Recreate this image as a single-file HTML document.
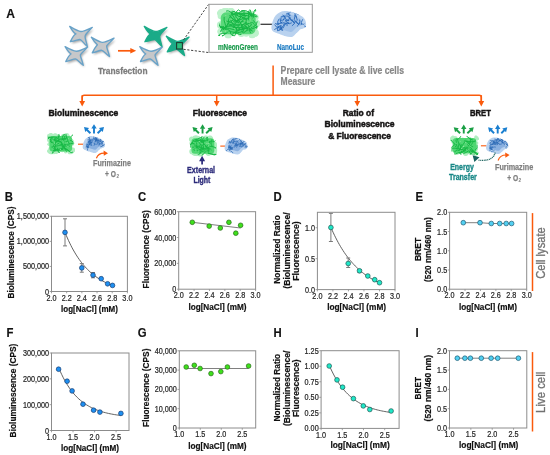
<!DOCTYPE html>
<html><head><meta charset="utf-8"><style>
html,body{margin:0;padding:0;background:#fff;}
svg{display:block;font-family:"Liberation Sans", sans-serif;will-change:transform;}
</style></head><body>
<svg width="550" height="455" viewBox="0 0 550 455">
<defs><filter id="blur1" x="-20%" y="-20%" width="140%" height="140%"><feGaussianBlur stdDeviation="0.9"/></filter></defs>
<rect width="550" height="455" fill="#fff"/>
<path d="M69.70,26.40 C81.06,33.10 80.39,33.07 92.30,27.40 C83.03,37.58 84.14,33.22 87.40,46.60 C77.57,37.11 83.67,38.86 70.30,41.70 C77.69,26.37 78.27,41.10 69.70,26.40 Z" fill="#000" opacity="0.35" transform="translate(1.3,1.8)" filter="url(#blur1)"/>
<path d="M69.70,26.40 C81.06,33.10 80.39,33.07 92.30,27.40 C83.03,37.58 84.14,33.22 87.40,46.60 C77.57,37.11 83.67,38.86 70.30,41.70 C77.69,26.37 78.27,41.10 69.70,26.40 Z" fill="#c6c7c9" stroke="#68a2c8" stroke-width="1.35" stroke-linejoin="round"/>
<path d="M65.10,46.70 C75.99,52.74 76.50,52.75 87.60,47.10 C77.76,58.31 79.51,50.88 83.30,65.30 C73.26,56.89 78.39,57.98 65.80,61.60 C72.61,47.20 73.23,60.40 65.10,46.70 Z" fill="#000" opacity="0.35" transform="translate(1.3,1.8)" filter="url(#blur1)"/>
<path d="M65.10,46.70 C75.99,52.74 76.50,52.75 87.60,47.10 C77.76,58.31 79.51,50.88 83.30,65.30 C73.26,56.89 78.39,57.98 65.80,61.60 C72.61,47.20 73.23,60.40 65.10,46.70 Z" fill="#c6c7c9" stroke="#68a2c8" stroke-width="1.35" stroke-linejoin="round"/>
<path d="M91.30,37.20 C103.06,44.06 101.84,44.01 114.10,38.10 C104.00,49.30 105.86,41.87 109.50,56.50 C99.75,48.37 104.49,49.36 92.30,52.90 C98.82,38.51 99.59,50.65 91.30,37.20 Z" fill="#000" opacity="0.35" transform="translate(1.3,1.8)" filter="url(#blur1)"/>
<path d="M91.30,37.20 C103.06,44.06 101.84,44.01 114.10,38.10 C104.00,49.30 105.86,41.87 109.50,56.50 C99.75,48.37 104.49,49.36 92.30,52.90 C98.82,38.51 99.59,50.65 91.30,37.20 Z" fill="#c6c7c9" stroke="#68a2c8" stroke-width="1.35" stroke-linejoin="round"/>
<path d="M144.30,26.40 C155.66,33.10 154.99,33.07 166.90,27.40 C157.63,37.58 158.74,33.22 162.00,46.60 C152.17,37.11 158.27,38.86 144.90,41.70 C152.29,26.37 152.87,41.10 144.30,26.40 Z" fill="#000" opacity="0.35" transform="translate(1.3,1.8)" filter="url(#blur1)"/>
<path d="M144.30,26.40 C155.66,33.10 154.99,33.07 166.90,27.40 C157.63,37.58 158.74,33.22 162.00,46.60 C152.17,37.11 158.27,38.86 144.90,41.70 C152.29,26.37 152.87,41.10 144.30,26.40 Z" fill="#1aab88" stroke="#1aab88" stroke-width="1.35" stroke-linejoin="round"/>
<path d="M139.80,46.70 C150.69,52.74 151.20,52.75 162.30,47.10 C152.46,58.31 154.21,50.88 158.00,65.30 C147.96,56.89 153.09,57.98 140.50,61.60 C147.31,47.20 147.93,60.40 139.80,46.70 Z" fill="#000" opacity="0.35" transform="translate(1.3,1.8)" filter="url(#blur1)"/>
<path d="M139.80,46.70 C150.69,52.74 151.20,52.75 162.30,47.10 C152.46,58.31 154.21,50.88 158.00,65.30 C147.96,56.89 153.09,57.98 140.50,61.60 C147.31,47.20 147.93,60.40 139.80,46.70 Z" fill="#c6c7c9" stroke="#68a2c8" stroke-width="1.35" stroke-linejoin="round"/>
<path d="M166.30,36.20 C178.06,43.06 176.84,43.01 189.10,37.10 C179.00,48.30 180.86,40.87 184.50,55.50 C174.75,47.37 179.49,48.36 167.30,51.90 C173.82,37.51 174.59,49.65 166.30,36.20 Z" fill="#000" opacity="0.35" transform="translate(1.3,1.8)" filter="url(#blur1)"/>
<path d="M166.30,36.20 C178.06,43.06 176.84,43.01 189.10,37.10 C179.00,48.30 180.86,40.87 184.50,55.50 C174.75,47.37 179.49,48.36 167.30,51.90 C173.82,37.51 174.59,49.65 166.30,36.20 Z" fill="#1aab88" stroke="#1aab88" stroke-width="1.35" stroke-linejoin="round"/>
<rect x="176.6" y="42.6" width="5.8" height="6.4" fill="#2cbf7e" stroke="#1d3b30" stroke-width="1.1"/>
<path d="M183.5,40 L208.5,4.5" stroke="#444" stroke-width="1" stroke-dasharray="2.2,1.6" fill="none"/>
<path d="M183.5,49.3 L209,52.6" stroke="#444" stroke-width="1" stroke-dasharray="2.2,1.6" fill="none"/>
<path d="M118,50.8 L132,50.8" stroke="#fa5a0c" stroke-width="1.7"/>
<path d="M130.3,48 L136.2,50.8 L130.3,53.6 Z" fill="#fa5a0c"/>
<text x="97.90" y="73.90" font-size="9.8" font-weight="bold" fill="#7d7d7d" text-anchor="start" textLength="49.60" lengthAdjust="spacingAndGlyphs" stroke="#7d7d7d" stroke-width="0.3">Transfection</text>
<rect x="209.0" y="4.3" width="103.3" height="48.0" fill="#fff" stroke="#999" stroke-width="1"/>
<clipPath id="cl1"><rect x="216.40" y="8.00" width="43.60" height="30.60" rx="7.63" ry="6.89"/></clipPath>
<g clip-path="url(#cl1)">
<circle cx="228.49" cy="24.38" r="3.13" fill="#bdf2cb"/>
<circle cx="242.05" cy="26.38" r="2.57" fill="#bdf2cb"/>
<circle cx="220.16" cy="31.56" r="2.92" fill="#bdf2cb"/>
<circle cx="228.35" cy="35.43" r="3.31" fill="#bdf2cb"/>
<circle cx="250.67" cy="22.72" r="3.62" fill="#bdf2cb"/>
<circle cx="225.25" cy="26.60" r="4.04" fill="#bdf2cb"/>
<circle cx="239.06" cy="29.21" r="3.68" fill="#bdf2cb"/>
<circle cx="222.04" cy="29.62" r="3.53" fill="#bdf2cb"/>
<circle cx="230.83" cy="11.82" r="4.04" fill="#bdf2cb"/>
<circle cx="237.19" cy="28.66" r="4.06" fill="#bdf2cb"/>
<circle cx="246.14" cy="33.61" r="3.17" fill="#bdf2cb"/>
<circle cx="249.35" cy="21.94" r="4.17" fill="#bdf2cb"/>
<circle cx="252.24" cy="13.45" r="2.70" fill="#bdf2cb"/>
<circle cx="227.71" cy="34.69" r="3.25" fill="#bdf2cb"/>
<circle cx="242.89" cy="18.43" r="3.38" fill="#bdf2cb"/>
<circle cx="233.97" cy="19.65" r="3.52" fill="#bdf2cb"/>
<circle cx="241.32" cy="33.19" r="3.70" fill="#bdf2cb"/>
<circle cx="254.10" cy="32.02" r="4.27" fill="#bdf2cb"/>
<circle cx="244.55" cy="15.05" r="4.03" fill="#bdf2cb"/>
<circle cx="255.42" cy="33.21" r="3.49" fill="#bdf2cb"/>
<circle cx="246.12" cy="16.23" r="3.97" fill="#bdf2cb"/>
<circle cx="240.93" cy="18.04" r="2.56" fill="#bdf2cb"/>
<circle cx="251.32" cy="35.29" r="2.61" fill="#bdf2cb"/>
<circle cx="249.34" cy="21.11" r="2.72" fill="#bdf2cb"/>
<circle cx="230.56" cy="29.88" r="4.05" fill="#bdf2cb"/>
<circle cx="221.31" cy="26.10" r="2.53" fill="#bdf2cb"/>
<circle cx="246.30" cy="19.16" r="4.07" fill="#bdf2cb"/>
<circle cx="256.01" cy="23.43" r="4.28" fill="#bdf2cb"/>
<circle cx="231.15" cy="12.94" r="3.55" fill="#bdf2cb"/>
<circle cx="220.83" cy="15.89" r="3.20" fill="#bdf2cb"/>
<circle cx="242.29" cy="14.88" r="2.53" fill="#bdf2cb"/>
<circle cx="251.83" cy="18.74" r="4.21" fill="#bdf2cb"/>
<circle cx="252.90" cy="20.31" r="3.29" fill="#bdf2cb"/>
<circle cx="238.94" cy="26.82" r="3.54" fill="#bdf2cb"/>
<circle cx="240.40" cy="26.24" r="4.17" fill="#bdf2cb"/>
<circle cx="238.46" cy="21.62" r="3.77" fill="#bdf2cb"/>
<circle cx="228.48" cy="18.43" r="4.24" fill="#bdf2cb"/>
<circle cx="238.98" cy="24.49" r="2.47" fill="#bdf2cb"/>
<circle cx="235.06" cy="25.26" r="2.48" fill="#bdf2cb"/>
<circle cx="242.49" cy="26.54" r="2.56" fill="#bdf2cb"/>
<circle cx="242.92" cy="22.47" r="3.70" fill="#bdf2cb"/>
<circle cx="232.74" cy="28.37" r="3.80" fill="#bdf2cb"/>
<circle cx="220.49" cy="12.54" r="3.69" fill="#bdf2cb"/>
<circle cx="255.37" cy="17.21" r="3.29" fill="#bdf2cb"/>
<circle cx="241.63" cy="18.89" r="3.12" fill="#bdf2cb"/>
<circle cx="231.26" cy="20.10" r="3.54" fill="#bdf2cb"/>
<circle cx="230.80" cy="20.29" r="3.87" fill="#bdf2cb"/>
<circle cx="220.67" cy="25.00" r="3.80" fill="#bdf2cb"/>
<circle cx="231.16" cy="16.51" r="3.92" fill="#bdf2cb"/>
<circle cx="228.52" cy="15.65" r="3.25" fill="#bdf2cb"/>
<circle cx="245.54" cy="13.55" r="3.04" fill="#bdf2cb"/>
<circle cx="232.04" cy="31.47" r="3.25" fill="#bdf2cb"/>
<circle cx="251.38" cy="15.20" r="3.07" fill="#bdf2cb"/>
<circle cx="243.77" cy="32.72" r="3.28" fill="#bdf2cb"/>
<circle cx="228.01" cy="14.02" r="3.42" fill="#bdf2cb"/>
<circle cx="226.74" cy="30.81" r="3.99" fill="#bdf2cb"/>
<circle cx="226.47" cy="17.88" r="3.93" fill="#bdf2cb"/>
<circle cx="243.46" cy="30.80" r="3.08" fill="#bdf2cb"/>
<circle cx="224.48" cy="18.21" r="3.91" fill="#bdf2cb"/>
<circle cx="229.72" cy="19.54" r="3.21" fill="#bdf2cb"/>
<circle cx="235.23" cy="21.09" r="4.14" fill="#bdf2cb"/>
<circle cx="225.45" cy="11.17" r="4.18" fill="#bdf2cb"/>
<circle cx="252.28" cy="35.22" r="3.25" fill="#bdf2cb"/>
<circle cx="254.88" cy="33.76" r="2.86" fill="#bdf2cb"/>
<circle cx="247.30" cy="31.54" r="3.67" fill="#bdf2cb"/>
<circle cx="238.90" cy="18.14" r="3.07" fill="#bdf2cb"/>
<circle cx="228.10" cy="12.73" r="3.53" fill="#bdf2cb"/>
<circle cx="230.31" cy="30.89" r="2.53" fill="#bdf2cb"/>
<circle cx="253.16" cy="28.04" r="4.14" fill="#bdf2cb"/>
<circle cx="252.90" cy="33.08" r="3.51" fill="#bdf2cb"/>
<rect x="220.76" y="12.28" width="34.88" height="22.03" rx="5.45" fill="#5ad87a"/>
<path d="M222.28,28.55 Q224.92,28.95 227.64,29.49 T229.50,31.39" stroke="#17b646" stroke-width="1.0" fill="none" stroke-linecap="round"/>
<path d="M225.95,33.41 Q222.67,32.74 219.67,34.32 T219.67,35.54" stroke="#17b646" stroke-width="1.0" fill="none" stroke-linecap="round"/>
<path d="M230.80,31.65 Q235.57,32.17 237.67,33.63 T241.01,34.60" stroke="#17b646" stroke-width="1.0" fill="none" stroke-linecap="round"/>
<path d="M239.09,21.65 Q235.95,17.94 235.52,15.74 T232.22,13.54" stroke="#17b646" stroke-width="1.0" fill="none" stroke-linecap="round"/>
<path d="M222.93,27.86 Q219.67,27.36 219.67,25.93 T219.67,25.47" stroke="#17b646" stroke-width="1.0" fill="none" stroke-linecap="round"/>
<path d="M232.60,15.24 Q235.03,13.98 236.84,11.20 T240.07,11.06" stroke="#17b646" stroke-width="1.0" fill="none" stroke-linecap="round"/>
<path d="M234.28,29.75 Q229.43,28.12 223.53,27.63 T220.85,27.69" stroke="#17b646" stroke-width="1.0" fill="none" stroke-linecap="round"/>
<path d="M229.00,18.38 Q231.27,16.72 231.56,13.73 T234.93,11.26" stroke="#17b646" stroke-width="1.0" fill="none" stroke-linecap="round"/>
<path d="M250.31,15.19 Q255.77,16.12 256.73,16.92 T256.73,15.85" stroke="#17b646" stroke-width="1.0" fill="none" stroke-linecap="round"/>
<path d="M239.25,29.97 Q241.23,27.22 243.68,24.12 T246.55,21.98" stroke="#17b646" stroke-width="1.0" fill="none" stroke-linecap="round"/>
<path d="M248.65,19.90 Q248.13,16.49 248.83,13.66 T248.46,11.34" stroke="#17b646" stroke-width="1.0" fill="none" stroke-linecap="round"/>
<path d="M254.43,24.66 Q256.73,27.34 256.73,27.05 T256.73,27.07" stroke="#17b646" stroke-width="1.0" fill="none" stroke-linecap="round"/>
<path d="M229.77,16.44 Q233.55,20.06 237.73,21.80 T239.46,25.17" stroke="#17b646" stroke-width="1.0" fill="none" stroke-linecap="round"/>
<path d="M253.45,20.63 Q256.56,23.99 256.73,25.52 T256.73,28.37" stroke="#17b646" stroke-width="1.0" fill="none" stroke-linecap="round"/>
<path d="M238.76,22.95 Q236.14,21.87 232.41,18.30 T229.83,15.68" stroke="#17b646" stroke-width="1.0" fill="none" stroke-linecap="round"/>
<path d="M245.36,16.58 Q242.81,19.46 237.41,20.61 T232.18,21.45" stroke="#17b646" stroke-width="1.0" fill="none" stroke-linecap="round"/>
<path d="M243.80,30.91 Q240.80,32.42 237.49,32.62 T234.04,32.51" stroke="#17b646" stroke-width="1.0" fill="none" stroke-linecap="round"/>
<path d="M237.63,31.09 Q235.50,27.74 232.74,23.90 T232.71,20.26" stroke="#17b646" stroke-width="1.0" fill="none" stroke-linecap="round"/>
<path d="M237.59,28.03 Q237.49,25.81 240.83,22.09 T244.86,19.31" stroke="#17b646" stroke-width="1.0" fill="none" stroke-linecap="round"/>
<path d="M224.11,17.25 Q223.50,20.02 225.13,23.86 T223.72,28.33" stroke="#17b646" stroke-width="1.0" fill="none" stroke-linecap="round"/>
<path d="M230.19,31.12 Q230.42,35.44 232.57,35.54 T232.54,35.54" stroke="#17b646" stroke-width="1.0" fill="none" stroke-linecap="round"/>
<path d="M236.64,28.31 Q235.93,31.58 235.44,34.22 T233.76,35.54" stroke="#17b646" stroke-width="1.0" fill="none" stroke-linecap="round"/>
<path d="M234.63,24.25 Q237.21,21.68 239.65,18.69 T240.44,15.18" stroke="#17b646" stroke-width="1.0" fill="none" stroke-linecap="round"/>
<path d="M244.76,27.12 Q241.00,29.72 236.14,31.67 T232.64,34.79" stroke="#17b646" stroke-width="1.0" fill="none" stroke-linecap="round"/>
<path d="M253.29,27.00 Q255.86,26.08 256.73,23.28 T256.73,21.90" stroke="#17b646" stroke-width="1.0" fill="none" stroke-linecap="round"/>
<path d="M245.73,15.79 Q242.68,15.80 240.28,14.22 T235.59,12.55" stroke="#17b646" stroke-width="1.0" fill="none" stroke-linecap="round"/>
<path d="M241.39,24.48 Q244.51,25.14 249.15,23.42 T253.66,23.33" stroke="#17b646" stroke-width="1.0" fill="none" stroke-linecap="round"/>
<path d="M246.04,20.28 Q246.08,22.76 246.25,25.60 T245.10,29.01" stroke="#17b646" stroke-width="1.0" fill="none" stroke-linecap="round"/>
<path d="M250.47,32.83 Q248.79,30.07 249.09,27.67 T248.32,25.38" stroke="#17b646" stroke-width="1.0" fill="none" stroke-linecap="round"/>
<path d="M225.53,29.28 Q226.18,26.06 229.02,22.33 T232.81,20.14" stroke="#17b646" stroke-width="1.0" fill="none" stroke-linecap="round"/>
<path d="M226.64,21.12 Q229.86,21.43 232.83,23.46 T237.99,25.09" stroke="#17b646" stroke-width="1.0" fill="none" stroke-linecap="round"/>
<path d="M236.40,21.31 Q234.74,18.67 232.74,15.48 T231.96,11.06" stroke="#17b646" stroke-width="1.0" fill="none" stroke-linecap="round"/>
<path d="M243.68,13.24 Q248.98,13.37 253.13,14.36 T256.73,15.44" stroke="#17b646" stroke-width="1.0" fill="none" stroke-linecap="round"/>
<path d="M228.18,23.93 Q233.64,25.75 237.15,25.10 T240.30,25.17" stroke="#17b646" stroke-width="1.0" fill="none" stroke-linecap="round"/>
<path d="M237.13,14.49 Q239.90,11.78 241.60,11.06 T243.15,11.06" stroke="#17b646" stroke-width="1.0" fill="none" stroke-linecap="round"/>
<path d="M233.09,27.44 Q238.92,27.07 243.94,28.16 T249.37,28.23" stroke="#17b646" stroke-width="1.0" fill="none" stroke-linecap="round"/>
<path d="M252.32,31.04 Q248.89,29.90 246.23,27.47 T245.39,23.46" stroke="#17b646" stroke-width="1.0" fill="none" stroke-linecap="round"/>
<path d="M234.65,22.73 Q238.42,20.25 240.71,17.40 T244.06,15.62" stroke="#17b646" stroke-width="1.0" fill="none" stroke-linecap="round"/>
<path d="M227.76,31.86 Q225.27,34.82 222.97,35.54 T223.15,35.54" stroke="#17b646" stroke-width="1.0" fill="none" stroke-linecap="round"/>
<path d="M247.46,15.66 Q244.79,15.38 240.57,14.47 T237.82,13.31" stroke="#17b646" stroke-width="1.0" fill="none" stroke-linecap="round"/>
<path d="M241.75,22.07 Q245.19,20.17 248.89,17.40 T249.30,14.20" stroke="#17b646" stroke-width="1.0" fill="none" stroke-linecap="round"/>
<path d="M234.82,13.16 Q238.06,13.59 241.06,13.34 T245.04,15.32" stroke="#17b646" stroke-width="1.0" fill="none" stroke-linecap="round"/>
<path d="M248.25,18.82 Q248.68,15.38 249.21,13.24 T248.82,11.06" stroke="#17b646" stroke-width="1.0" fill="none" stroke-linecap="round"/>
<path d="M232.22,13.80 Q231.41,11.80 228.85,11.06 T226.10,11.11" stroke="#17b646" stroke-width="1.0" fill="none" stroke-linecap="round"/>
<path d="M223.61,26.61 Q219.67,27.23 219.67,25.84 T219.67,23.99" stroke="#17b646" stroke-width="1.0" fill="none" stroke-linecap="round"/>
<path d="M231.81,25.59 Q226.26,26.04 223.27,28.13 T220.50,31.45" stroke="#17b646" stroke-width="1.0" fill="none" stroke-linecap="round"/>
<path d="M252.21,16.33 Q249.37,12.25 246.67,11.06 T241.78,11.06" stroke="#17b646" stroke-width="1.0" fill="none" stroke-linecap="round"/>
<path d="M237.57,18.36 Q240.65,22.30 242.08,26.90 T244.74,28.34" stroke="#17b646" stroke-width="1.0" fill="none" stroke-linecap="round"/>
<path d="M246.43,30.21 Q249.38,30.08 254.31,28.03 T256.73,26.90" stroke="#17b646" stroke-width="1.0" fill="none" stroke-linecap="round"/>
<path d="M250.37,22.23 Q248.43,24.36 243.29,26.52 T240.56,28.52" stroke="#17b646" stroke-width="1.0" fill="none" stroke-linecap="round"/>
<path d="M236.58,30.20 Q239.50,29.26 244.10,28.70 T246.14,26.51" stroke="#17b646" stroke-width="1.0" fill="none" stroke-linecap="round"/>
<path d="M253.48,17.30 Q252.47,14.43 254.26,11.06 T255.62,11.06" stroke="#17b646" stroke-width="1.0" fill="none" stroke-linecap="round"/>
<path d="M223.20,29.86 Q226.97,26.22 227.85,23.93 T228.61,19.58" stroke="#17b646" stroke-width="1.0" fill="none" stroke-linecap="round"/>
<path d="M244.11,14.92 Q243.83,11.87 244.21,11.06 T241.41,11.06" stroke="#17b646" stroke-width="1.0" fill="none" stroke-linecap="round"/>
<path d="M241.29,30.04 Q244.37,28.46 247.95,27.44 T251.47,24.33" stroke="#17b646" stroke-width="1.0" fill="none" stroke-linecap="round"/>
<path d="M252.06,27.29 Q247.87,29.04 245.60,31.52 T241.86,31.96" stroke="#17b646" stroke-width="1.0" fill="none" stroke-linecap="round"/>
<path d="M235.94,14.39 Q238.21,16.35 243.49,18.00 T246.59,20.31" stroke="#17b646" stroke-width="1.0" fill="none" stroke-linecap="round"/>
<path d="M245.11,30.85 Q239.77,28.78 234.94,27.03 T229.07,25.69" stroke="#17b646" stroke-width="1.0" fill="none" stroke-linecap="round"/>
<path d="M251.94,18.85 Q251.99,14.74 250.59,11.38 T250.33,11.06" stroke="#17b646" stroke-width="1.0" fill="none" stroke-linecap="round"/>
<path d="M246.22,18.50 Q242.94,18.16 240.34,16.80 T235.23,14.62" stroke="#17b646" stroke-width="1.0" fill="none" stroke-linecap="round"/>
<circle cx="236.73" cy="18.35" r="0.45" fill="#d0f7b0" opacity="0.8"/>
<circle cx="237.87" cy="28.52" r="0.45" fill="#d0f7b0" opacity="0.8"/>
<circle cx="232.56" cy="21.20" r="0.45" fill="#d0f7b0" opacity="0.8"/>
<circle cx="246.21" cy="25.56" r="0.45" fill="#d0f7b0" opacity="0.8"/>
<circle cx="249.78" cy="22.14" r="0.45" fill="#d0f7b0" opacity="0.8"/>
<circle cx="249.71" cy="22.86" r="0.45" fill="#d0f7b0" opacity="0.8"/>
<circle cx="251.24" cy="18.63" r="0.45" fill="#d0f7b0" opacity="0.8"/>
<circle cx="250.14" cy="19.74" r="0.45" fill="#d0f7b0" opacity="0.8"/>
<circle cx="225.89" cy="21.17" r="0.45" fill="#d0f7b0" opacity="0.8"/>
<circle cx="234.52" cy="28.87" r="0.45" fill="#d0f7b0" opacity="0.8"/>
<circle cx="244.67" cy="30.54" r="0.45" fill="#d0f7b0" opacity="0.8"/>
<circle cx="238.71" cy="15.13" r="0.45" fill="#d0f7b0" opacity="0.8"/>
<circle cx="241.58" cy="17.39" r="0.45" fill="#d0f7b0" opacity="0.8"/>
<circle cx="225.67" cy="30.88" r="0.45" fill="#d0f7b0" opacity="0.8"/>
<circle cx="225.17" cy="31.44" r="0.45" fill="#d0f7b0" opacity="0.8"/>
<circle cx="245.87" cy="20.86" r="0.45" fill="#d0f7b0" opacity="0.8"/>
<circle cx="250.38" cy="20.99" r="0.45" fill="#d0f7b0" opacity="0.8"/>
<circle cx="239.58" cy="23.13" r="0.45" fill="#d0f7b0" opacity="0.8"/>
<circle cx="231.37" cy="19.54" r="0.45" fill="#d0f7b0" opacity="0.8"/>
<circle cx="248.78" cy="28.95" r="0.45" fill="#d0f7b0" opacity="0.8"/>
<circle cx="240.91" cy="28.54" r="0.45" fill="#d0f7b0" opacity="0.8"/>
<circle cx="236.89" cy="19.29" r="0.45" fill="#d0f7b0" opacity="0.8"/>
<circle cx="242.70" cy="23.28" r="0.45" fill="#d0f7b0" opacity="0.8"/>
<circle cx="244.03" cy="20.60" r="0.45" fill="#d0f7b0" opacity="0.8"/>
<circle cx="225.89" cy="15.51" r="0.45" fill="#d0f7b0" opacity="0.8"/>
<circle cx="251.17" cy="17.67" r="0.45" fill="#d0f7b0" opacity="0.8"/>
<circle cx="245.04" cy="24.37" r="0.45" fill="#d0f7b0" opacity="0.8"/>
<circle cx="250.06" cy="27.40" r="0.45" fill="#d0f7b0" opacity="0.8"/>
<circle cx="247.13" cy="21.83" r="0.45" fill="#d0f7b0" opacity="0.8"/>
<circle cx="244.76" cy="20.56" r="0.45" fill="#d0f7b0" opacity="0.8"/>
</g>
<path d="M260.5,24.3 L275.3,24.3" stroke="#3a3a3a" stroke-width="1.3"/>
<path d="M271.80,24.60 C272.33,22.05 273.68,17.63 275.60,15.40 C277.52,13.17 280.37,11.67 283.30,11.20 C286.23,10.73 289.77,11.47 293.20,12.60 C296.63,13.73 301.80,15.63 303.90,18.00 C306.00,20.37 306.70,24.73 305.80,26.80 C304.90,28.87 300.88,28.70 298.50,30.40 C296.12,32.10 294.67,36.40 291.50,37.00 C288.33,37.60 282.68,35.05 279.50,34.00 C276.32,32.95 273.68,32.27 272.40,30.70 C271.12,29.13 271.27,27.15 271.80,24.60 Z" fill="#b9d2ef"/>
<clipPath id="cl2"><path d="M271.80,24.60 C272.33,22.05 273.68,17.63 275.60,15.40 C277.52,13.17 280.37,11.67 283.30,11.20 C286.23,10.73 289.77,11.47 293.20,12.60 C296.63,13.73 301.80,15.63 303.90,18.00 C306.00,20.37 306.70,24.73 305.80,26.80 C304.90,28.87 300.88,28.70 298.50,30.40 C296.12,32.10 294.67,36.40 291.50,37.00 C288.33,37.60 282.68,35.05 279.50,34.00 C276.32,32.95 273.68,32.27 272.40,30.70 C271.12,29.13 271.27,27.15 271.80,24.60 Z"/></clipPath>
<circle cx="275.92" cy="19.51" r="1.94" fill="#b9d2ef"/>
<circle cx="282.57" cy="13.52" r="2.14" fill="#b9d2ef"/>
<circle cx="290.41" cy="13.67" r="2.12" fill="#b9d2ef"/>
<circle cx="292.95" cy="14.13" r="1.67" fill="#b9d2ef"/>
<circle cx="303.67" cy="26.05" r="1.85" fill="#b9d2ef"/>
<circle cx="297.97" cy="29.34" r="1.31" fill="#b9d2ef"/>
<circle cx="294.45" cy="32.38" r="1.45" fill="#b9d2ef"/>
<circle cx="285.43" cy="34.03" r="1.77" fill="#b9d2ef"/>
<circle cx="280.53" cy="32.79" r="1.42" fill="#b9d2ef"/>
<circle cx="274.22" cy="28.42" r="2.12" fill="#b9d2ef"/>
<circle cx="276.40" cy="18.35" r="1.36" fill="#b9d2ef"/>
<circle cx="282.59" cy="13.51" r="1.34" fill="#b9d2ef"/>
<circle cx="289.34" cy="13.52" r="1.33" fill="#b9d2ef"/>
<circle cx="292.69" cy="14.00" r="2.07" fill="#b9d2ef"/>
<circle cx="302.44" cy="20.37" r="1.42" fill="#b9d2ef"/>
<circle cx="297.45" cy="29.60" r="2.07" fill="#b9d2ef"/>
<circle cx="295.55" cy="31.34" r="2.16" fill="#b9d2ef"/>
<circle cx="285.48" cy="34.04" r="1.88" fill="#b9d2ef"/>
<g clip-path="url(#cl2)">
<path d="M277.06,23.47 C277.44,21.74 278.42,18.73 279.80,17.22 C281.18,15.70 283.23,14.68 285.34,14.36 C287.45,14.04 290.00,14.54 292.47,15.31 C294.94,16.08 298.66,17.37 300.17,18.98 C301.68,20.59 302.19,23.56 301.54,24.97 C300.89,26.37 298.00,26.26 296.28,27.42 C294.57,28.57 293.52,31.50 291.24,31.90 C288.96,32.31 284.90,30.58 282.60,29.86 C280.31,29.15 278.42,28.69 277.49,27.62 C276.57,26.55 276.68,25.21 277.06,23.47 Z" fill="#9fc0e8"/>
<path d="M283.80,24.06 Q285.73,23.10 288.87,22.98" stroke="#2466b8" stroke-width="0.85" fill="none" stroke-linecap="round"/>
<path d="M279.05,19.05 Q276.87,21.62 277.68,23.13" stroke="#2466b8" stroke-width="0.85" fill="none" stroke-linecap="round"/>
<path d="M284.19,22.65 Q282.42,23.47 280.76,23.06" stroke="#2466b8" stroke-width="0.85" fill="none" stroke-linecap="round"/>
<path d="M281.02,22.96 Q279.57,21.31 281.01,17.93" stroke="#2466b8" stroke-width="0.85" fill="none" stroke-linecap="round"/>
<path d="M286.38,13.84 Q289.20,13.37 289.29,14.72" stroke="#2466b8" stroke-width="0.85" fill="none" stroke-linecap="round"/>
<path d="M299.27,23.33 Q298.35,25.63 297.28,26.28" stroke="#2466b8" stroke-width="0.85" fill="none" stroke-linecap="round"/>
<path d="M280.90,29.05 Q283.07,26.82 282.56,27.03" stroke="#2466b8" stroke-width="0.85" fill="none" stroke-linecap="round"/>
<path d="M285.78,23.66 Q284.50,25.32 282.95,28.11" stroke="#2466b8" stroke-width="0.85" fill="none" stroke-linecap="round"/>
<path d="M282.89,15.10 Q285.74,15.92 285.60,18.78" stroke="#2466b8" stroke-width="0.85" fill="none" stroke-linecap="round"/>
<path d="M280.90,28.66 Q279.85,30.53 278.24,30.45" stroke="#2466b8" stroke-width="0.85" fill="none" stroke-linecap="round"/>
<path d="M288.28,13.36 Q289.38,13.73 290.52,12.06" stroke="#2466b8" stroke-width="0.85" fill="none" stroke-linecap="round"/>
<path d="M281.27,29.75 Q278.43,27.78 277.95,26.20" stroke="#2466b8" stroke-width="0.85" fill="none" stroke-linecap="round"/>
<path d="M282.21,22.13 Q280.63,24.35 276.95,23.72" stroke="#2466b8" stroke-width="0.85" fill="none" stroke-linecap="round"/>
<path d="M288.55,20.46 Q286.59,19.62 285.20,20.90" stroke="#2466b8" stroke-width="0.85" fill="none" stroke-linecap="round"/>
<path d="M288.75,23.71 Q286.87,21.04 285.96,20.84" stroke="#2466b8" stroke-width="0.85" fill="none" stroke-linecap="round"/>
<path d="M284.58,23.87 Q283.84,26.31 281.45,27.58" stroke="#2466b8" stroke-width="0.85" fill="none" stroke-linecap="round"/>
<path d="M295.89,16.77 Q295.38,15.98 294.95,13.57" stroke="#2466b8" stroke-width="0.85" fill="none" stroke-linecap="round"/>
<path d="M294.31,22.99 Q291.60,21.42 291.81,19.56" stroke="#2466b8" stroke-width="0.85" fill="none" stroke-linecap="round"/>
<path d="M283.38,19.85 Q285.18,17.37 285.19,15.80" stroke="#2466b8" stroke-width="0.85" fill="none" stroke-linecap="round"/>
<path d="M295.22,21.57 Q294.85,24.17 292.27,25.64" stroke="#2466b8" stroke-width="0.85" fill="none" stroke-linecap="round"/>
<path d="M304.26,24.17 Q303.79,25.20 301.31,23.62" stroke="#2466b8" stroke-width="0.85" fill="none" stroke-linecap="round"/>
<path d="M290.27,20.10 Q290.93,18.85 289.90,17.11" stroke="#2466b8" stroke-width="0.85" fill="none" stroke-linecap="round"/>
<path d="M294.24,19.51 Q295.24,15.92 294.92,15.15" stroke="#2466b8" stroke-width="0.85" fill="none" stroke-linecap="round"/>
<path d="M280.41,25.43 Q281.24,26.29 281.29,29.90" stroke="#2466b8" stroke-width="0.85" fill="none" stroke-linecap="round"/>
<path d="M287.78,13.18 Q287.98,13.54 290.09,15.74" stroke="#2466b8" stroke-width="0.85" fill="none" stroke-linecap="round"/>
<path d="M278.04,27.57 Q275.62,27.40 274.78,24.81" stroke="#2466b8" stroke-width="0.85" fill="none" stroke-linecap="round"/>
<path d="M277.04,27.90 Q276.83,28.28 274.64,29.42" stroke="#2466b8" stroke-width="0.85" fill="none" stroke-linecap="round"/>
<path d="M278.79,24.55 Q277.34,25.43 275.41,23.57" stroke="#2466b8" stroke-width="0.85" fill="none" stroke-linecap="round"/>
<path d="M298.10,23.48 Q295.90,22.36 295.84,20.67" stroke="#2466b8" stroke-width="0.85" fill="none" stroke-linecap="round"/>
<path d="M294.07,22.72 Q293.88,20.10 291.32,20.48" stroke="#2466b8" stroke-width="0.85" fill="none" stroke-linecap="round"/>
<path d="M279.99,27.14 Q282.55,28.47 282.77,30.54" stroke="#2466b8" stroke-width="0.85" fill="none" stroke-linecap="round"/>
<path d="M286.58,16.10 Q289.76,17.03 290.17,15.47" stroke="#2466b8" stroke-width="0.85" fill="none" stroke-linecap="round"/>
<path d="M291.48,22.98 Q289.07,24.48 287.74,23.07" stroke="#2466b8" stroke-width="0.85" fill="none" stroke-linecap="round"/>
<path d="M288.68,17.40 Q290.09,18.29 291.83,20.42" stroke="#2466b8" stroke-width="0.85" fill="none" stroke-linecap="round"/>
<path d="M299.33,14.20 Q299.01,14.71 296.08,13.52" stroke="#2466b8" stroke-width="0.85" fill="none" stroke-linecap="round"/>
<path d="M281.25,16.80 Q283.26,16.60 284.62,16.56" stroke="#2466b8" stroke-width="0.85" fill="none" stroke-linecap="round"/>
<path d="M294.58,20.69 Q295.74,22.40 298.10,23.92" stroke="#2466b8" stroke-width="0.85" fill="none" stroke-linecap="round"/>
<path d="M284.07,19.63 Q283.06,20.30 280.57,20.43" stroke="#2466b8" stroke-width="0.85" fill="none" stroke-linecap="round"/>
<path d="M276.99,28.33 Q279.36,25.58 281.46,25.74" stroke="#2466b8" stroke-width="0.85" fill="none" stroke-linecap="round"/>
<path d="M297.26,20.03 Q296.64,19.14 296.12,15.78" stroke="#2466b8" stroke-width="0.85" fill="none" stroke-linecap="round"/>
<path d="M286.02,22.48 Q287.57,22.78 287.14,25.68" stroke="#2466b8" stroke-width="0.85" fill="none" stroke-linecap="round"/>
<path d="M299.87,19.92 Q300.55,21.20 298.77,24.63" stroke="#2466b8" stroke-width="0.85" fill="none" stroke-linecap="round"/>
<path d="M289.60,17.76 Q289.14,19.99 288.16,20.35" stroke="#2466b8" stroke-width="0.85" fill="none" stroke-linecap="round"/>
<path d="M277.52,30.87 Q276.68,29.37 278.68,26.53" stroke="#2466b8" stroke-width="0.85" fill="none" stroke-linecap="round"/>
<path d="M304.52,26.15 Q306.08,27.35 309.31,27.67" stroke="#2466b8" stroke-width="0.85" fill="none" stroke-linecap="round"/>
<path d="M302.51,19.57 Q300.77,22.43 301.13,24.64" stroke="#2466b8" stroke-width="0.85" fill="none" stroke-linecap="round"/>
<path d="M285.72,19.76 Q286.72,18.86 288.44,20.53" stroke="#2466b8" stroke-width="0.85" fill="none" stroke-linecap="round"/>
<path d="M279.03,30.49 Q279.87,28.93 281.12,28.48" stroke="#2466b8" stroke-width="0.85" fill="none" stroke-linecap="round"/>
</g>
<text x="217.90" y="49.70" font-size="8.6" font-weight="bold" fill="#1a9a4c" text-anchor="start" textLength="40.00" lengthAdjust="spacingAndGlyphs" stroke="#1a9a4c" stroke-width="0.2">mNeonGreen</text>
<text x="276.90" y="49.70" font-size="8.6" font-weight="bold" fill="#1a7ac2" text-anchor="start" textLength="27.10" lengthAdjust="spacingAndGlyphs" stroke="#1a7ac2" stroke-width="0.2">NanoLuc</text>
<path d="M273.1,65.4 L273.1,95.2" stroke="#fa5a0c" stroke-width="1.5" fill="none"/>
<text x="280.60" y="73.90" font-size="10.2" font-weight="bold" fill="#878787" text-anchor="start" textLength="123.40" lengthAdjust="spacingAndGlyphs" stroke="#878787" stroke-width="0.22">Prepare cell lysate &amp; live cells</text>
<text x="280.60" y="85.10" font-size="10.2" font-weight="bold" fill="#878787" text-anchor="start" textLength="34.60" lengthAdjust="spacingAndGlyphs" stroke="#878787" stroke-width="0.22">Measure</text>
<path d="M82.2,104 L82.2,97.2 Q82.2,95.2 84.2,95.2 L479.3,95.2 Q481.3,95.2 481.3,97.2 L481.3,104" stroke="#fa5a0c" stroke-width="1.5" fill="none"/>
<path d="M82.2,95.2 L82.2,103" stroke="#fa5a0c" stroke-width="1.5"/>
<path d="M79.3,101.0 L82.2,106.4 L85.10000000000001,101.0 Z" fill="#fa5a0c"/>
<path d="M216.7,95.2 L216.7,103" stroke="#fa5a0c" stroke-width="1.5"/>
<path d="M213.79999999999998,101.0 L216.7,106.4 L219.6,101.0 Z" fill="#fa5a0c"/>
<path d="M357.3,95.2 L357.3,103" stroke="#fa5a0c" stroke-width="1.5"/>
<path d="M354.40000000000003,101.0 L357.3,106.4 L360.2,101.0 Z" fill="#fa5a0c"/>
<path d="M481.3,95.2 L481.3,103" stroke="#fa5a0c" stroke-width="1.5"/>
<path d="M478.40000000000003,101.0 L481.3,106.4 L484.2,101.0 Z" fill="#fa5a0c"/>
<text x="48.50" y="115.90" font-size="9.3" font-weight="bold" fill="#161414" text-anchor="start" textLength="69.70" lengthAdjust="spacingAndGlyphs" stroke="#161414" stroke-width="0.5">Bioluminescence</text>
<text x="192.80" y="115.80" font-size="9.3" font-weight="bold" fill="#161414" text-anchor="start" textLength="54.10" lengthAdjust="spacingAndGlyphs" stroke="#161414" stroke-width="0.5">Fluorescence</text>
<text x="342.70" y="115.90" font-size="9.3" font-weight="bold" fill="#161414" text-anchor="start" textLength="31.30" lengthAdjust="spacingAndGlyphs" stroke="#161414" stroke-width="0.5">Ratio of</text>
<text x="324.50" y="127.20" font-size="9.3" font-weight="bold" fill="#161414" text-anchor="start" textLength="70.00" lengthAdjust="spacingAndGlyphs" stroke="#161414" stroke-width="0.5">Bioluminescence</text>
<text x="328.20" y="138.60" font-size="9.3" font-weight="bold" fill="#161414" text-anchor="start" textLength="62.70" lengthAdjust="spacingAndGlyphs" stroke="#161414" stroke-width="0.5">&amp; Fluorescence</text>
<text x="470.00" y="115.90" font-size="9.3" font-weight="bold" fill="#161414" text-anchor="start" textLength="20.90" lengthAdjust="spacingAndGlyphs" stroke="#161414" stroke-width="0.5">BRET</text>
<clipPath id="cl3"><rect x="46.60" y="132.90" width="28.40" height="21.60" rx="4.97" ry="4.86"/></clipPath>
<g clip-path="url(#cl3)">
<circle cx="59.65" cy="144.73" r="2.93" fill="#b0eec0"/>
<circle cx="59.97" cy="143.84" r="2.49" fill="#b0eec0"/>
<circle cx="53.19" cy="143.91" r="2.54" fill="#b0eec0"/>
<circle cx="67.87" cy="136.69" r="2.12" fill="#b0eec0"/>
<circle cx="50.92" cy="149.05" r="2.63" fill="#b0eec0"/>
<circle cx="49.74" cy="152.03" r="2.98" fill="#b0eec0"/>
<circle cx="64.52" cy="145.70" r="1.93" fill="#b0eec0"/>
<circle cx="49.09" cy="144.19" r="1.81" fill="#b0eec0"/>
<circle cx="53.32" cy="139.24" r="1.77" fill="#b0eec0"/>
<circle cx="59.93" cy="142.67" r="2.82" fill="#b0eec0"/>
<circle cx="61.26" cy="146.12" r="2.38" fill="#b0eec0"/>
<circle cx="64.72" cy="142.96" r="2.09" fill="#b0eec0"/>
<circle cx="72.81" cy="152.27" r="2.82" fill="#b0eec0"/>
<circle cx="65.82" cy="140.51" r="2.03" fill="#b0eec0"/>
<circle cx="55.71" cy="136.27" r="2.72" fill="#b0eec0"/>
<circle cx="58.40" cy="149.69" r="2.23" fill="#b0eec0"/>
<circle cx="71.86" cy="149.70" r="1.73" fill="#b0eec0"/>
<circle cx="53.79" cy="150.79" r="2.34" fill="#b0eec0"/>
<circle cx="72.40" cy="141.93" r="1.82" fill="#b0eec0"/>
<circle cx="63.93" cy="148.51" r="2.08" fill="#b0eec0"/>
<circle cx="50.83" cy="140.81" r="2.98" fill="#b0eec0"/>
<circle cx="67.03" cy="137.10" r="2.05" fill="#b0eec0"/>
<circle cx="51.17" cy="136.09" r="2.76" fill="#b0eec0"/>
<circle cx="53.02" cy="144.72" r="2.31" fill="#b0eec0"/>
<circle cx="53.33" cy="147.71" r="1.90" fill="#b0eec0"/>
<circle cx="64.27" cy="137.07" r="2.27" fill="#b0eec0"/>
<circle cx="53.87" cy="139.72" r="2.99" fill="#b0eec0"/>
<circle cx="68.12" cy="140.32" r="2.87" fill="#b0eec0"/>
<circle cx="53.82" cy="141.87" r="2.84" fill="#b0eec0"/>
<circle cx="64.22" cy="136.79" r="3.01" fill="#b0eec0"/>
<circle cx="53.88" cy="139.52" r="2.73" fill="#b0eec0"/>
<circle cx="56.67" cy="140.18" r="1.82" fill="#b0eec0"/>
<circle cx="50.91" cy="145.13" r="2.04" fill="#b0eec0"/>
<circle cx="63.24" cy="141.48" r="2.32" fill="#b0eec0"/>
<circle cx="71.88" cy="143.42" r="2.47" fill="#b0eec0"/>
<circle cx="69.65" cy="138.22" r="1.93" fill="#b0eec0"/>
<circle cx="70.66" cy="149.19" r="2.05" fill="#b0eec0"/>
<circle cx="53.31" cy="147.84" r="2.95" fill="#b0eec0"/>
<circle cx="53.48" cy="151.48" r="2.87" fill="#b0eec0"/>
<circle cx="63.30" cy="142.34" r="1.86" fill="#b0eec0"/>
<circle cx="49.66" cy="151.70" r="2.04" fill="#b0eec0"/>
<circle cx="65.74" cy="139.50" r="2.80" fill="#b0eec0"/>
<circle cx="63.13" cy="140.13" r="1.96" fill="#b0eec0"/>
<circle cx="66.12" cy="136.25" r="2.02" fill="#b0eec0"/>
<circle cx="62.23" cy="149.79" r="2.52" fill="#b0eec0"/>
<circle cx="55.49" cy="150.91" r="1.99" fill="#b0eec0"/>
<circle cx="49.13" cy="139.71" r="2.31" fill="#b0eec0"/>
<circle cx="50.19" cy="138.11" r="2.21" fill="#b0eec0"/>
<circle cx="62.54" cy="137.33" r="2.20" fill="#b0eec0"/>
<circle cx="70.24" cy="152.00" r="2.58" fill="#b0eec0"/>
<circle cx="65.42" cy="145.16" r="1.91" fill="#b0eec0"/>
<circle cx="49.58" cy="135.37" r="2.91" fill="#b0eec0"/>
<circle cx="65.65" cy="151.70" r="1.76" fill="#b0eec0"/>
<circle cx="64.09" cy="143.39" r="2.67" fill="#b0eec0"/>
<circle cx="56.43" cy="152.33" r="1.83" fill="#b0eec0"/>
<circle cx="61.91" cy="147.80" r="2.89" fill="#b0eec0"/>
<circle cx="66.52" cy="147.22" r="2.76" fill="#b0eec0"/>
<circle cx="70.82" cy="141.14" r="2.62" fill="#b0eec0"/>
<circle cx="70.48" cy="150.11" r="2.27" fill="#b0eec0"/>
<circle cx="67.81" cy="149.98" r="2.47" fill="#b0eec0"/>
<circle cx="63.82" cy="141.67" r="2.48" fill="#b0eec0"/>
<circle cx="63.43" cy="136.45" r="2.56" fill="#b0eec0"/>
<circle cx="72.71" cy="150.26" r="2.67" fill="#b0eec0"/>
<circle cx="58.11" cy="147.76" r="2.48" fill="#b0eec0"/>
<circle cx="59.36" cy="149.55" r="1.84" fill="#b0eec0"/>
<circle cx="66.84" cy="135.57" r="2.51" fill="#b0eec0"/>
<circle cx="60.34" cy="139.04" r="2.63" fill="#b0eec0"/>
<circle cx="60.73" cy="145.68" r="2.92" fill="#b0eec0"/>
<circle cx="54.91" cy="135.26" r="2.12" fill="#b0eec0"/>
<circle cx="65.10" cy="138.56" r="1.95" fill="#b0eec0"/>
<rect x="49.44" y="135.92" width="22.72" height="15.55" rx="3.55" fill="#4fd672"/>
<path d="M69.44,146.12 Q66.89,145.65 63.79,146.08 T60.53,145.24" stroke="#17b846" stroke-width="0.95" fill="none" stroke-linecap="round"/>
<path d="M54.42,139.38 Q56.28,139.99 59.62,141.07 T61.58,143.22" stroke="#17b846" stroke-width="0.95" fill="none" stroke-linecap="round"/>
<path d="M70.39,140.33 Q72.87,140.83 72.87,142.15 T72.87,143.87" stroke="#17b846" stroke-width="0.95" fill="none" stroke-linecap="round"/>
<path d="M65.41,148.87 Q64.12,147.31 62.83,144.93 T61.09,143.48" stroke="#17b846" stroke-width="0.95" fill="none" stroke-linecap="round"/>
<path d="M63.98,144.67 Q67.43,144.69 70.68,143.70 T72.87,144.05" stroke="#17b846" stroke-width="0.95" fill="none" stroke-linecap="round"/>
<path d="M52.61,137.79 Q50.46,137.60 48.73,137.47 T48.73,138.92" stroke="#17b846" stroke-width="0.95" fill="none" stroke-linecap="round"/>
<path d="M65.36,138.85 Q61.68,139.76 57.89,140.69 T55.47,142.86" stroke="#17b846" stroke-width="0.95" fill="none" stroke-linecap="round"/>
<path d="M65.06,139.53 Q64.77,137.94 64.11,135.50 T65.20,135.06" stroke="#17b846" stroke-width="0.95" fill="none" stroke-linecap="round"/>
<path d="M62.27,149.44 Q60.30,150.17 56.75,150.40 T53.45,150.01" stroke="#17b846" stroke-width="0.95" fill="none" stroke-linecap="round"/>
<path d="M54.69,149.75 Q58.19,149.57 61.73,148.53 T64.17,148.97" stroke="#17b846" stroke-width="0.95" fill="none" stroke-linecap="round"/>
<path d="M51.91,142.81 Q50.80,141.71 50.46,140.25 T51.06,138.65" stroke="#17b846" stroke-width="0.95" fill="none" stroke-linecap="round"/>
<path d="M57.29,148.05 Q58.03,150.99 58.59,152.34 T59.56,152.34" stroke="#17b846" stroke-width="0.95" fill="none" stroke-linecap="round"/>
<path d="M62.48,146.56 Q65.38,148.26 66.92,149.37 T69.67,151.43" stroke="#17b846" stroke-width="0.95" fill="none" stroke-linecap="round"/>
<path d="M55.61,146.29 Q58.51,145.89 60.95,144.74 T62.49,143.76" stroke="#17b846" stroke-width="0.95" fill="none" stroke-linecap="round"/>
<path d="M50.26,141.84 Q52.85,139.93 55.11,138.58 T56.86,138.09" stroke="#17b846" stroke-width="0.95" fill="none" stroke-linecap="round"/>
<path d="M61.62,142.40 Q59.77,141.82 56.33,141.09 T54.60,139.34" stroke="#17b846" stroke-width="0.95" fill="none" stroke-linecap="round"/>
<path d="M56.91,139.03 Q59.41,137.10 59.49,135.39 T58.23,135.06" stroke="#17b846" stroke-width="0.95" fill="none" stroke-linecap="round"/>
<path d="M57.01,141.51 Q55.39,140.60 53.56,139.52 T50.68,139.18" stroke="#17b846" stroke-width="0.95" fill="none" stroke-linecap="round"/>
<path d="M59.45,141.82 Q58.26,139.68 58.74,137.38 T58.12,135.70" stroke="#17b846" stroke-width="0.95" fill="none" stroke-linecap="round"/>
<path d="M61.71,145.01 Q64.39,146.88 64.89,148.77 T66.72,151.43" stroke="#17b846" stroke-width="0.95" fill="none" stroke-linecap="round"/>
<path d="M54.80,151.24 Q55.42,148.60 55.05,147.09 T55.92,145.08" stroke="#17b846" stroke-width="0.95" fill="none" stroke-linecap="round"/>
<path d="M66.98,138.05 Q66.37,136.59 65.84,135.06 T66.59,135.06" stroke="#17b846" stroke-width="0.95" fill="none" stroke-linecap="round"/>
<path d="M65.16,145.74 Q63.15,146.31 62.15,147.64 T62.73,149.96" stroke="#17b846" stroke-width="0.95" fill="none" stroke-linecap="round"/>
<path d="M61.12,144.74 Q63.10,144.20 64.61,142.76 T67.11,141.40" stroke="#17b846" stroke-width="0.95" fill="none" stroke-linecap="round"/>
<path d="M53.01,146.44 Q55.28,145.16 57.51,143.98 T59.09,143.40" stroke="#17b846" stroke-width="0.95" fill="none" stroke-linecap="round"/>
<path d="M65.08,148.91 Q67.53,149.47 69.30,151.49 T72.63,152.34" stroke="#17b846" stroke-width="0.95" fill="none" stroke-linecap="round"/>
<path d="M57.04,137.42 Q54.08,136.90 50.65,137.00 T48.83,137.60" stroke="#17b846" stroke-width="0.95" fill="none" stroke-linecap="round"/>
<path d="M65.98,138.56 Q63.05,138.55 60.42,138.99 T58.78,140.13" stroke="#17b846" stroke-width="0.95" fill="none" stroke-linecap="round"/>
<path d="M54.09,148.20 Q53.80,150.19 52.77,152.34 T53.12,152.34" stroke="#17b846" stroke-width="0.95" fill="none" stroke-linecap="round"/>
<path d="M64.34,141.25 Q62.47,139.81 62.45,137.28 T63.51,135.06" stroke="#17b846" stroke-width="0.95" fill="none" stroke-linecap="round"/>
<path d="M71.03,136.49 Q72.87,135.06 72.87,135.06 T72.68,135.06" stroke="#17b846" stroke-width="0.95" fill="none" stroke-linecap="round"/>
<path d="M55.49,149.83 Q54.12,146.86 53.65,144.05 T51.44,142.36" stroke="#17b846" stroke-width="0.95" fill="none" stroke-linecap="round"/>
<path d="M66.32,136.82 Q67.51,139.58 68.32,141.94 T69.36,144.04" stroke="#17b846" stroke-width="0.95" fill="none" stroke-linecap="round"/>
<path d="M56.21,142.17 Q54.81,144.46 53.59,146.07 T51.73,147.25" stroke="#17b846" stroke-width="0.95" fill="none" stroke-linecap="round"/>
<circle cx="52.52" cy="140.67" r="0.45" fill="#c8f5c8" opacity="0.8"/>
<circle cx="53.01" cy="139.62" r="0.45" fill="#c8f5c8" opacity="0.8"/>
<circle cx="65.14" cy="142.39" r="0.45" fill="#c8f5c8" opacity="0.8"/>
<circle cx="67.57" cy="146.65" r="0.45" fill="#c8f5c8" opacity="0.8"/>
<circle cx="53.13" cy="149.51" r="0.45" fill="#c8f5c8" opacity="0.8"/>
<circle cx="68.37" cy="138.63" r="0.45" fill="#c8f5c8" opacity="0.8"/>
<circle cx="67.71" cy="142.86" r="0.45" fill="#c8f5c8" opacity="0.8"/>
<circle cx="60.42" cy="149.32" r="0.45" fill="#c8f5c8" opacity="0.8"/>
<circle cx="56.43" cy="143.98" r="0.45" fill="#c8f5c8" opacity="0.8"/>
<circle cx="68.25" cy="146.35" r="0.45" fill="#c8f5c8" opacity="0.8"/>
<circle cx="60.26" cy="149.39" r="0.45" fill="#c8f5c8" opacity="0.8"/>
<circle cx="66.20" cy="144.93" r="0.45" fill="#c8f5c8" opacity="0.8"/>
<circle cx="54.24" cy="145.18" r="0.45" fill="#c8f5c8" opacity="0.8"/>
<circle cx="60.04" cy="140.18" r="0.45" fill="#c8f5c8" opacity="0.8"/>
<circle cx="53.17" cy="144.03" r="0.45" fill="#c8f5c8" opacity="0.8"/>
<circle cx="54.40" cy="143.02" r="0.45" fill="#c8f5c8" opacity="0.8"/>
<circle cx="63.66" cy="143.17" r="0.45" fill="#c8f5c8" opacity="0.8"/>
</g>
<path d="M78,144.2 L83.4,144.2" stroke="#fa5a0c" stroke-width="1.1"/>
<path d="M82.92,144.96 C83.26,143.32 84.13,140.50 85.35,139.07 C86.58,137.64 88.40,136.68 90.28,136.38 C92.16,136.08 94.42,136.55 96.62,137.28 C98.81,138.00 102.12,139.22 103.46,140.73 C104.81,142.25 105.26,145.04 104.68,146.36 C104.10,147.69 101.53,147.58 100.01,148.67 C98.48,149.76 97.55,152.51 95.53,152.89 C93.50,153.28 89.89,151.64 87.85,150.97 C85.81,150.30 84.13,149.86 83.30,148.86 C82.48,147.86 82.58,146.59 82.92,144.96 Z" fill="#b9d2ef"/>
<clipPath id="cl4"><path d="M82.92,144.96 C83.26,143.32 84.13,140.50 85.35,139.07 C86.58,137.64 88.40,136.68 90.28,136.38 C92.16,136.08 94.42,136.55 96.62,137.28 C98.81,138.00 102.12,139.22 103.46,140.73 C104.81,142.25 105.26,145.04 104.68,146.36 C104.10,147.69 101.53,147.58 100.01,148.67 C98.48,149.76 97.55,152.51 95.53,152.89 C93.50,153.28 89.89,151.64 87.85,150.97 C85.81,150.30 84.13,149.86 83.30,148.86 C82.48,147.86 82.58,146.59 82.92,144.96 Z"/></clipPath>
<circle cx="85.24" cy="142.47" r="1.19" fill="#b9d2ef"/>
<circle cx="89.26" cy="138.17" r="0.86" fill="#b9d2ef"/>
<circle cx="90.76" cy="137.39" r="1.01" fill="#b9d2ef"/>
<circle cx="97.93" cy="139.00" r="1.29" fill="#b9d2ef"/>
<circle cx="103.04" cy="144.63" r="1.15" fill="#b9d2ef"/>
<circle cx="101.08" cy="147.30" r="1.19" fill="#b9d2ef"/>
<circle cx="98.69" cy="148.73" r="1.05" fill="#b9d2ef"/>
<circle cx="94.22" cy="151.63" r="1.35" fill="#b9d2ef"/>
<circle cx="88.33" cy="150.11" r="1.29" fill="#b9d2ef"/>
<circle cx="84.54" cy="148.10" r="1.21" fill="#b9d2ef"/>
<circle cx="84.95" cy="143.18" r="1.03" fill="#b9d2ef"/>
<circle cx="90.02" cy="137.75" r="0.78" fill="#b9d2ef"/>
<circle cx="91.04" cy="137.43" r="1.35" fill="#b9d2ef"/>
<circle cx="99.34" cy="139.71" r="0.83" fill="#b9d2ef"/>
<circle cx="103.36" cy="146.10" r="1.37" fill="#b9d2ef"/>
<circle cx="102.91" cy="146.39" r="1.04" fill="#b9d2ef"/>
<circle cx="98.73" cy="148.69" r="0.97" fill="#b9d2ef"/>
<circle cx="91.12" cy="150.86" r="0.87" fill="#b9d2ef"/>
<g clip-path="url(#cl4)">
<path d="M86.29,144.23 C86.53,143.12 87.15,141.20 88.04,140.23 C88.92,139.26 90.23,138.61 91.59,138.40 C92.94,138.20 94.57,138.52 96.15,139.01 C97.73,139.50 100.11,140.33 101.08,141.36 C102.05,142.39 102.37,144.29 101.95,145.19 C101.54,146.09 99.69,146.02 98.59,146.76 C97.49,147.50 96.82,149.37 95.36,149.63 C93.90,149.89 91.30,148.78 89.83,148.32 C88.37,147.87 87.15,147.57 86.56,146.89 C85.97,146.21 86.04,145.34 86.29,144.23 Z" fill="#8ab0e0"/>
<path d="M96.66,138.74 Q96.98,137.84 97.61,136.57" stroke="#2a68b4" stroke-width="0.7" fill="none" stroke-linecap="round"/>
<path d="M93.75,137.45 Q94.41,136.05 93.24,134.03" stroke="#2a68b4" stroke-width="0.7" fill="none" stroke-linecap="round"/>
<path d="M91.37,142.71 Q90.44,141.65 90.53,141.10" stroke="#2a68b4" stroke-width="0.7" fill="none" stroke-linecap="round"/>
<path d="M95.76,140.47 Q97.19,140.79 98.89,141.03" stroke="#2a68b4" stroke-width="0.7" fill="none" stroke-linecap="round"/>
<path d="M89.18,142.13 Q89.40,140.63 89.43,140.35" stroke="#2a68b4" stroke-width="0.7" fill="none" stroke-linecap="round"/>
<path d="M96.60,139.44 Q94.95,140.54 95.02,141.79" stroke="#2a68b4" stroke-width="0.7" fill="none" stroke-linecap="round"/>
<path d="M88.54,143.07 Q90.64,142.11 90.98,142.42" stroke="#2a68b4" stroke-width="0.7" fill="none" stroke-linecap="round"/>
<path d="M101.07,141.67 Q100.10,139.55 101.04,138.32" stroke="#2a68b4" stroke-width="0.7" fill="none" stroke-linecap="round"/>
<path d="M98.83,139.66 Q99.90,140.64 100.51,139.76" stroke="#2a68b4" stroke-width="0.7" fill="none" stroke-linecap="round"/>
<path d="M102.56,141.70 Q102.51,143.37 101.19,144.50" stroke="#2a68b4" stroke-width="0.7" fill="none" stroke-linecap="round"/>
<path d="M89.59,142.54 Q89.72,142.55 88.12,141.04" stroke="#2a68b4" stroke-width="0.7" fill="none" stroke-linecap="round"/>
<path d="M87.98,146.93 Q87.70,148.98 87.37,150.29" stroke="#2a68b4" stroke-width="0.7" fill="none" stroke-linecap="round"/>
<path d="M97.32,139.52 Q97.65,140.27 97.23,142.43" stroke="#2a68b4" stroke-width="0.7" fill="none" stroke-linecap="round"/>
<path d="M100.71,141.44 Q99.23,142.37 97.52,142.82" stroke="#2a68b4" stroke-width="0.7" fill="none" stroke-linecap="round"/>
<path d="M102.92,145.44 Q102.50,146.67 100.55,146.79" stroke="#2a68b4" stroke-width="0.7" fill="none" stroke-linecap="round"/>
<path d="M95.52,139.77 Q94.47,138.83 95.28,137.09" stroke="#2a68b4" stroke-width="0.7" fill="none" stroke-linecap="round"/>
<path d="M102.17,146.12 Q103.83,145.19 104.39,144.72" stroke="#2a68b4" stroke-width="0.7" fill="none" stroke-linecap="round"/>
<path d="M87.36,144.79 Q88.77,144.44 90.03,143.62" stroke="#2a68b4" stroke-width="0.7" fill="none" stroke-linecap="round"/>
<path d="M88.27,146.73 Q87.28,147.03 86.64,148.01" stroke="#2a68b4" stroke-width="0.7" fill="none" stroke-linecap="round"/>
<path d="M96.74,138.17 Q96.68,139.83 95.62,140.88" stroke="#2a68b4" stroke-width="0.7" fill="none" stroke-linecap="round"/>
<path d="M101.22,140.76 Q99.38,141.18 98.77,140.95" stroke="#2a68b4" stroke-width="0.7" fill="none" stroke-linecap="round"/>
<path d="M90.68,140.38 Q91.17,139.68 92.20,139.82" stroke="#2a68b4" stroke-width="0.7" fill="none" stroke-linecap="round"/>
<path d="M88.93,141.54 Q90.43,140.27 91.17,140.29" stroke="#2a68b4" stroke-width="0.7" fill="none" stroke-linecap="round"/>
<path d="M94.23,142.99 Q94.91,144.87 94.23,145.48" stroke="#2a68b4" stroke-width="0.7" fill="none" stroke-linecap="round"/>
<path d="M89.60,144.50 Q88.77,146.30 87.31,146.27" stroke="#2a68b4" stroke-width="0.7" fill="none" stroke-linecap="round"/>
<path d="M96.11,139.58 Q95.99,138.21 95.87,137.37" stroke="#2a68b4" stroke-width="0.7" fill="none" stroke-linecap="round"/>
<path d="M89.70,139.93 Q87.83,140.23 87.70,139.36" stroke="#2a68b4" stroke-width="0.7" fill="none" stroke-linecap="round"/>
<path d="M91.85,142.59 Q91.35,143.30 89.34,144.69" stroke="#2a68b4" stroke-width="0.7" fill="none" stroke-linecap="round"/>
<path d="M88.63,147.65 Q87.26,146.90 86.22,145.70" stroke="#2a68b4" stroke-width="0.7" fill="none" stroke-linecap="round"/>
<path d="M89.72,141.27 Q89.43,141.42 87.95,142.84" stroke="#2a68b4" stroke-width="0.7" fill="none" stroke-linecap="round"/>
<path d="M88.41,146.49 Q88.21,147.08 86.72,146.24" stroke="#2a68b4" stroke-width="0.7" fill="none" stroke-linecap="round"/>
<path d="M99.60,143.75 Q99.98,145.27 98.96,145.51" stroke="#2a68b4" stroke-width="0.7" fill="none" stroke-linecap="round"/>
<path d="M90.49,139.97 Q89.56,140.08 89.90,141.49" stroke="#2a68b4" stroke-width="0.7" fill="none" stroke-linecap="round"/>
<path d="M97.78,138.91 Q98.92,140.13 98.67,140.93" stroke="#2a68b4" stroke-width="0.7" fill="none" stroke-linecap="round"/>
<path d="M88.47,146.20 Q87.52,147.19 85.99,147.03" stroke="#2a68b4" stroke-width="0.7" fill="none" stroke-linecap="round"/>
<path d="M95.10,140.24 Q94.15,139.39 93.53,138.49" stroke="#2a68b4" stroke-width="0.7" fill="none" stroke-linecap="round"/>
<path d="M97.71,143.85 Q96.46,144.81 94.47,144.02" stroke="#2a68b4" stroke-width="0.7" fill="none" stroke-linecap="round"/>
<path d="M97.60,140.28 Q97.07,138.61 95.23,138.37" stroke="#2a68b4" stroke-width="0.7" fill="none" stroke-linecap="round"/>
<path d="M86.11,144.18 Q86.39,143.72 87.63,144.74" stroke="#2a68b4" stroke-width="0.7" fill="none" stroke-linecap="round"/>
<path d="M98.26,144.05 Q100.59,142.77 101.20,143.30" stroke="#2a68b4" stroke-width="0.7" fill="none" stroke-linecap="round"/>
<path d="M90.85,142.57 Q91.11,144.12 91.67,145.51" stroke="#2a68b4" stroke-width="0.7" fill="none" stroke-linecap="round"/>
<path d="M90.21,138.94 Q89.80,138.38 87.52,136.81" stroke="#2a68b4" stroke-width="0.7" fill="none" stroke-linecap="round"/>
<path d="M101.19,142.54 Q102.73,140.97 103.63,141.27" stroke="#2a68b4" stroke-width="0.7" fill="none" stroke-linecap="round"/>
<path d="M89.44,144.27 Q89.83,142.69 90.84,141.56" stroke="#2a68b4" stroke-width="0.7" fill="none" stroke-linecap="round"/>
<path d="M102.20,142.71 Q102.74,143.76 103.15,145.34" stroke="#2a68b4" stroke-width="0.7" fill="none" stroke-linecap="round"/>
<path d="M89.15,143.43 Q90.94,144.84 91.00,145.31" stroke="#2a68b4" stroke-width="0.7" fill="none" stroke-linecap="round"/>
<path d="M89.55,139.48 Q88.81,138.18 89.32,136.68" stroke="#2a68b4" stroke-width="0.7" fill="none" stroke-linecap="round"/>
<path d="M96.53,139.87 Q97.07,140.61 95.70,141.99" stroke="#2a68b4" stroke-width="0.7" fill="none" stroke-linecap="round"/>
<path d="M94.48,138.25 Q93.34,138.58 92.87,139.43" stroke="#2a68b4" stroke-width="0.7" fill="none" stroke-linecap="round"/>
<path d="M93.09,140.12 Q92.18,141.39 91.67,142.60" stroke="#2a68b4" stroke-width="0.7" fill="none" stroke-linecap="round"/>
</g>
<path d="M94.00,133.50 L94.00,128.10" stroke="#1a7fd0" stroke-width="1.9" fill="none"/>
<path d="M94.00,124.20 L96.70,128.60 L91.30,128.60 Z" fill="#1a7fd0"/>
<path d="M90.40,133.20 L86.80,129.71" stroke="#1a7fd0" stroke-width="1.9" fill="none"/>
<path d="M84.00,127.00 L89.04,128.12 L85.28,132.00 Z" fill="#1a7fd0"/>
<path d="M97.60,133.20 L101.20,129.71" stroke="#1a7fd0" stroke-width="1.9" fill="none"/>
<path d="M104.00,127.00 L102.72,132.00 L98.96,128.12 Z" fill="#1a7fd0"/>
<path d="M96.4,158.2 Q98.5,153 104.5,153.2" stroke="#fa5a0c" stroke-width="1.2" fill="none"/>
<path d="M103.6,150.6 L108,153.3 L103.8,155.8 Z" fill="#fa5a0c"/>
<text x="93.00" y="165.80" font-size="8.9" font-weight="bold" fill="#7f7f7f" text-anchor="start" textLength="37.90" lengthAdjust="spacingAndGlyphs" stroke="#7f7f7f" stroke-width="0.25">Furimazine</text>
<text x="105.1" y="176.9" font-size="8.9" font-weight="bold" fill="#7f7f7f" stroke="#7f7f7f" stroke-width="0.25" textLength="10.9" lengthAdjust="spacingAndGlyphs">+ O</text>
<text x="116.40" y="177.50" font-size="5.2" font-weight="bold" fill="#7f7f7f" textLength="2.6" lengthAdjust="spacingAndGlyphs">2</text>
<path d="M202.55,133.50 L202.55,128.20" stroke="#1a9f45" stroke-width="1.9" fill="none"/>
<path d="M202.55,124.30 L205.25,128.70 L199.85,128.70 Z" fill="#1a9f45"/>
<path d="M198.95,133.20 L195.33,129.78" stroke="#1a9f45" stroke-width="1.9" fill="none"/>
<path d="M192.50,127.10 L197.55,128.16 L193.84,132.08 Z" fill="#1a9f45"/>
<path d="M206.15,133.20 L209.77,129.78" stroke="#1a9f45" stroke-width="1.9" fill="none"/>
<path d="M212.60,127.10 L211.26,132.08 L207.55,128.16 Z" fill="#1a9f45"/>
<clipPath id="cl5"><rect x="188.60" y="135.30" width="28.60" height="21.40" rx="5.00" ry="4.81"/></clipPath>
<g clip-path="url(#cl5)">
<circle cx="194.75" cy="149.25" r="2.53" fill="#b0eec0"/>
<circle cx="202.39" cy="141.14" r="2.73" fill="#b0eec0"/>
<circle cx="210.38" cy="146.21" r="2.36" fill="#b0eec0"/>
<circle cx="196.48" cy="137.49" r="2.19" fill="#b0eec0"/>
<circle cx="204.98" cy="138.63" r="2.73" fill="#b0eec0"/>
<circle cx="196.39" cy="141.42" r="1.77" fill="#b0eec0"/>
<circle cx="215.00" cy="150.09" r="2.84" fill="#b0eec0"/>
<circle cx="205.72" cy="138.02" r="2.13" fill="#b0eec0"/>
<circle cx="202.84" cy="139.42" r="2.93" fill="#b0eec0"/>
<circle cx="199.70" cy="140.09" r="2.76" fill="#b0eec0"/>
<circle cx="193.78" cy="153.33" r="2.29" fill="#b0eec0"/>
<circle cx="204.16" cy="143.31" r="2.33" fill="#b0eec0"/>
<circle cx="195.29" cy="138.08" r="2.82" fill="#b0eec0"/>
<circle cx="196.45" cy="150.80" r="1.98" fill="#b0eec0"/>
<circle cx="214.30" cy="152.74" r="2.68" fill="#b0eec0"/>
<circle cx="209.29" cy="147.38" r="2.65" fill="#b0eec0"/>
<circle cx="193.72" cy="145.59" r="2.77" fill="#b0eec0"/>
<circle cx="195.63" cy="153.24" r="2.85" fill="#b0eec0"/>
<circle cx="200.70" cy="143.69" r="2.29" fill="#b0eec0"/>
<circle cx="200.12" cy="154.47" r="2.21" fill="#b0eec0"/>
<circle cx="191.40" cy="139.04" r="2.63" fill="#b0eec0"/>
<circle cx="214.88" cy="145.93" r="2.34" fill="#b0eec0"/>
<circle cx="204.13" cy="150.25" r="2.00" fill="#b0eec0"/>
<circle cx="205.55" cy="146.97" r="2.51" fill="#b0eec0"/>
<circle cx="195.14" cy="140.35" r="2.16" fill="#b0eec0"/>
<circle cx="213.28" cy="143.37" r="2.48" fill="#b0eec0"/>
<circle cx="198.20" cy="139.21" r="1.80" fill="#b0eec0"/>
<circle cx="210.53" cy="150.74" r="2.19" fill="#b0eec0"/>
<circle cx="207.36" cy="149.01" r="2.87" fill="#b0eec0"/>
<circle cx="214.04" cy="144.41" r="2.98" fill="#b0eec0"/>
<circle cx="214.12" cy="147.55" r="2.85" fill="#b0eec0"/>
<circle cx="202.68" cy="143.87" r="2.03" fill="#b0eec0"/>
<circle cx="212.04" cy="140.22" r="1.80" fill="#b0eec0"/>
<circle cx="210.32" cy="150.69" r="2.33" fill="#b0eec0"/>
<circle cx="211.09" cy="138.33" r="2.04" fill="#b0eec0"/>
<circle cx="197.79" cy="144.62" r="1.93" fill="#b0eec0"/>
<circle cx="192.43" cy="143.23" r="2.87" fill="#b0eec0"/>
<circle cx="214.65" cy="150.21" r="2.33" fill="#b0eec0"/>
<circle cx="196.88" cy="153.86" r="2.39" fill="#b0eec0"/>
<circle cx="208.46" cy="137.92" r="1.98" fill="#b0eec0"/>
<circle cx="211.12" cy="151.05" r="2.84" fill="#b0eec0"/>
<circle cx="205.36" cy="144.73" r="2.46" fill="#b0eec0"/>
<circle cx="211.39" cy="142.71" r="2.40" fill="#b0eec0"/>
<circle cx="197.45" cy="150.59" r="1.73" fill="#b0eec0"/>
<circle cx="207.40" cy="153.77" r="1.74" fill="#b0eec0"/>
<circle cx="205.18" cy="148.46" r="2.81" fill="#b0eec0"/>
<circle cx="204.95" cy="141.84" r="2.23" fill="#b0eec0"/>
<circle cx="214.05" cy="152.94" r="1.88" fill="#b0eec0"/>
<circle cx="193.05" cy="139.05" r="1.74" fill="#b0eec0"/>
<circle cx="201.61" cy="139.85" r="2.83" fill="#b0eec0"/>
<circle cx="206.68" cy="139.61" r="2.40" fill="#b0eec0"/>
<circle cx="198.63" cy="145.89" r="1.99" fill="#b0eec0"/>
<circle cx="194.78" cy="140.59" r="2.20" fill="#b0eec0"/>
<circle cx="208.00" cy="146.86" r="1.77" fill="#b0eec0"/>
<circle cx="208.03" cy="152.40" r="2.71" fill="#b0eec0"/>
<circle cx="209.97" cy="137.57" r="2.31" fill="#b0eec0"/>
<circle cx="192.29" cy="150.52" r="1.94" fill="#b0eec0"/>
<circle cx="208.04" cy="141.77" r="2.61" fill="#b0eec0"/>
<circle cx="198.37" cy="138.16" r="2.21" fill="#b0eec0"/>
<circle cx="198.27" cy="152.86" r="2.09" fill="#b0eec0"/>
<circle cx="202.98" cy="146.84" r="2.93" fill="#b0eec0"/>
<circle cx="193.14" cy="147.73" r="2.36" fill="#b0eec0"/>
<circle cx="208.60" cy="154.00" r="2.11" fill="#b0eec0"/>
<circle cx="207.75" cy="146.44" r="2.43" fill="#b0eec0"/>
<circle cx="192.29" cy="151.39" r="2.97" fill="#b0eec0"/>
<circle cx="199.38" cy="142.89" r="2.99" fill="#b0eec0"/>
<circle cx="193.36" cy="138.74" r="1.81" fill="#b0eec0"/>
<circle cx="210.54" cy="150.45" r="2.29" fill="#b0eec0"/>
<circle cx="205.85" cy="137.78" r="2.54" fill="#b0eec0"/>
<circle cx="201.51" cy="146.30" r="2.21" fill="#b0eec0"/>
<rect x="191.46" y="138.30" width="22.88" height="15.41" rx="3.58" fill="#4fd672"/>
<path d="M200.79,141.89 Q201.70,140.16 203.06,138.35 T204.53,137.44" stroke="#17b846" stroke-width="0.95" fill="none" stroke-linecap="round"/>
<path d="M200.73,143.42 Q200.92,144.94 201.29,147.19 T200.48,150.12" stroke="#17b846" stroke-width="0.95" fill="none" stroke-linecap="round"/>
<path d="M208.90,147.90 Q206.36,148.37 202.77,148.51 T199.71,146.46" stroke="#17b846" stroke-width="0.95" fill="none" stroke-linecap="round"/>
<path d="M192.31,143.19 Q190.75,143.07 190.75,144.06 T190.75,144.56" stroke="#17b846" stroke-width="0.95" fill="none" stroke-linecap="round"/>
<path d="M208.11,153.24 Q210.46,153.89 213.23,154.56 T215.06,154.56" stroke="#17b846" stroke-width="0.95" fill="none" stroke-linecap="round"/>
<path d="M199.08,142.32 Q200.29,143.85 201.14,146.45 T203.03,147.89" stroke="#17b846" stroke-width="0.95" fill="none" stroke-linecap="round"/>
<path d="M200.79,145.41 Q197.72,145.92 195.10,148.28 T194.43,150.22" stroke="#17b846" stroke-width="0.95" fill="none" stroke-linecap="round"/>
<path d="M205.68,151.58 Q204.89,152.88 202.96,154.56 T202.60,154.56" stroke="#17b846" stroke-width="0.95" fill="none" stroke-linecap="round"/>
<path d="M203.85,139.93 Q203.16,141.19 203.53,143.59 T202.14,145.45" stroke="#17b846" stroke-width="0.95" fill="none" stroke-linecap="round"/>
<path d="M210.21,143.13 Q208.40,142.09 206.79,139.47 T207.61,137.44" stroke="#17b846" stroke-width="0.95" fill="none" stroke-linecap="round"/>
<path d="M192.55,147.23 Q196.50,146.81 198.55,147.01 T201.45,147.28" stroke="#17b846" stroke-width="0.95" fill="none" stroke-linecap="round"/>
<path d="M203.66,145.87 Q203.60,147.77 203.17,149.12 T200.97,151.03" stroke="#17b846" stroke-width="0.95" fill="none" stroke-linecap="round"/>
<path d="M196.17,139.98 Q198.21,140.35 200.40,141.01 T202.19,142.56" stroke="#17b846" stroke-width="0.95" fill="none" stroke-linecap="round"/>
<path d="M192.87,142.00 Q190.75,143.79 190.75,144.67 T190.75,147.19" stroke="#17b846" stroke-width="0.95" fill="none" stroke-linecap="round"/>
<path d="M196.76,139.12 Q193.74,139.92 192.55,141.74 T190.95,144.40" stroke="#17b846" stroke-width="0.95" fill="none" stroke-linecap="round"/>
<path d="M201.64,138.79 Q199.51,141.01 196.68,141.63 T193.03,140.46" stroke="#17b846" stroke-width="0.95" fill="none" stroke-linecap="round"/>
<path d="M200.54,152.62 Q199.91,154.56 198.65,154.56 T197.46,154.56" stroke="#17b846" stroke-width="0.95" fill="none" stroke-linecap="round"/>
<path d="M212.14,146.54 Q210.91,144.37 210.96,141.64 T212.46,139.99" stroke="#17b846" stroke-width="0.95" fill="none" stroke-linecap="round"/>
<path d="M193.95,144.59 Q196.72,146.55 199.37,148.94 T199.64,152.05" stroke="#17b846" stroke-width="0.95" fill="none" stroke-linecap="round"/>
<path d="M208.37,153.25 Q211.10,154.13 215.02,154.56 T215.06,154.31" stroke="#17b846" stroke-width="0.95" fill="none" stroke-linecap="round"/>
<path d="M206.38,147.70 Q205.57,145.22 203.93,143.50 T201.81,142.00" stroke="#17b846" stroke-width="0.95" fill="none" stroke-linecap="round"/>
<path d="M197.87,146.57 Q196.16,145.13 194.34,143.86 T192.14,143.62" stroke="#17b846" stroke-width="0.95" fill="none" stroke-linecap="round"/>
<path d="M195.58,140.64 Q197.62,138.84 200.65,137.44 T201.47,137.44" stroke="#17b846" stroke-width="0.95" fill="none" stroke-linecap="round"/>
<path d="M207.92,150.68 Q204.12,150.50 201.98,151.51 T199.81,153.17" stroke="#17b846" stroke-width="0.95" fill="none" stroke-linecap="round"/>
<path d="M201.78,149.27 Q204.32,149.62 207.73,148.97 T211.46,149.69" stroke="#17b846" stroke-width="0.95" fill="none" stroke-linecap="round"/>
<path d="M196.44,151.21 Q197.90,150.10 201.52,149.04 T203.25,146.95" stroke="#17b846" stroke-width="0.95" fill="none" stroke-linecap="round"/>
<path d="M206.03,146.21 Q207.34,147.64 208.15,149.51 T208.40,151.55" stroke="#17b846" stroke-width="0.95" fill="none" stroke-linecap="round"/>
<path d="M196.32,140.62 Q198.08,140.16 201.16,140.39 T205.13,140.74" stroke="#17b846" stroke-width="0.95" fill="none" stroke-linecap="round"/>
<path d="M197.16,149.06 Q196.68,147.04 196.77,144.51 T196.31,142.53" stroke="#17b846" stroke-width="0.95" fill="none" stroke-linecap="round"/>
<path d="M208.37,148.03 Q206.90,146.20 203.81,144.62 T202.51,141.89" stroke="#17b846" stroke-width="0.95" fill="none" stroke-linecap="round"/>
<path d="M208.79,152.03 Q209.25,150.68 208.90,148.05 T207.29,145.19" stroke="#17b846" stroke-width="0.95" fill="none" stroke-linecap="round"/>
<path d="M201.97,141.53 Q204.19,141.68 206.71,140.46 T207.77,138.53" stroke="#17b846" stroke-width="0.95" fill="none" stroke-linecap="round"/>
<path d="M208.50,141.55 Q210.77,141.51 212.68,141.71 T215.06,140.90" stroke="#17b846" stroke-width="0.95" fill="none" stroke-linecap="round"/>
<path d="M209.72,146.31 Q213.28,146.41 215.06,147.39 T215.06,147.88" stroke="#17b846" stroke-width="0.95" fill="none" stroke-linecap="round"/>
<circle cx="195.12" cy="144.87" r="0.45" fill="#c8f5c8" opacity="0.8"/>
<circle cx="208.16" cy="145.79" r="0.45" fill="#c8f5c8" opacity="0.8"/>
<circle cx="194.97" cy="147.65" r="0.45" fill="#c8f5c8" opacity="0.8"/>
<circle cx="207.69" cy="143.14" r="0.45" fill="#c8f5c8" opacity="0.8"/>
<circle cx="202.42" cy="143.20" r="0.45" fill="#c8f5c8" opacity="0.8"/>
<circle cx="208.48" cy="143.52" r="0.45" fill="#c8f5c8" opacity="0.8"/>
<circle cx="200.69" cy="145.89" r="0.45" fill="#c8f5c8" opacity="0.8"/>
<circle cx="198.85" cy="150.90" r="0.45" fill="#c8f5c8" opacity="0.8"/>
<circle cx="199.35" cy="141.47" r="0.45" fill="#c8f5c8" opacity="0.8"/>
<circle cx="204.36" cy="145.84" r="0.45" fill="#c8f5c8" opacity="0.8"/>
<circle cx="208.40" cy="141.74" r="0.45" fill="#c8f5c8" opacity="0.8"/>
<circle cx="206.70" cy="143.78" r="0.45" fill="#c8f5c8" opacity="0.8"/>
<circle cx="201.02" cy="143.29" r="0.45" fill="#c8f5c8" opacity="0.8"/>
<circle cx="205.94" cy="150.79" r="0.45" fill="#c8f5c8" opacity="0.8"/>
<circle cx="195.16" cy="148.89" r="0.45" fill="#c8f5c8" opacity="0.8"/>
<circle cx="208.52" cy="146.15" r="0.45" fill="#c8f5c8" opacity="0.8"/>
<circle cx="196.14" cy="151.56" r="0.45" fill="#c8f5c8" opacity="0.8"/>
</g>
<path d="M220.3,146.1 L225,146.1" stroke="#fa5a0c" stroke-width="1.1"/>
<path d="M224.88,146.36 C225.23,144.68 226.12,141.77 227.39,140.29 C228.65,138.82 230.53,137.83 232.47,137.52 C234.41,137.21 236.74,137.70 239.00,138.44 C241.27,139.19 244.68,140.45 246.07,142.01 C247.45,143.57 247.91,146.45 247.32,147.82 C246.73,149.18 244.07,149.07 242.50,150.19 C240.93,151.31 239.97,154.15 237.88,154.55 C235.79,154.94 232.06,153.26 229.96,152.57 C227.86,151.87 226.12,151.42 225.28,150.39 C224.43,149.36 224.53,148.05 224.88,146.36 Z" fill="#b9d2ef"/>
<clipPath id="cl6"><path d="M224.88,146.36 C225.23,144.68 226.12,141.77 227.39,140.29 C228.65,138.82 230.53,137.83 232.47,137.52 C234.41,137.21 236.74,137.70 239.00,138.44 C241.27,139.19 244.68,140.45 246.07,142.01 C247.45,143.57 247.91,146.45 247.32,147.82 C246.73,149.18 244.07,149.07 242.50,150.19 C240.93,151.31 239.97,154.15 237.88,154.55 C235.79,154.94 232.06,153.26 229.96,152.57 C227.86,151.87 226.12,151.42 225.28,150.39 C224.43,149.36 224.53,148.05 224.88,146.36 Z"/></clipPath>
<circle cx="228.34" cy="141.21" r="0.88" fill="#b9d2ef"/>
<circle cx="228.54" cy="140.93" r="1.45" fill="#b9d2ef"/>
<circle cx="233.97" cy="138.70" r="0.87" fill="#b9d2ef"/>
<circle cx="242.70" cy="141.41" r="1.02" fill="#b9d2ef"/>
<circle cx="245.85" cy="147.05" r="0.94" fill="#b9d2ef"/>
<circle cx="241.91" cy="149.62" r="1.00" fill="#b9d2ef"/>
<circle cx="239.29" cy="152.01" r="1.41" fill="#b9d2ef"/>
<circle cx="232.89" cy="152.34" r="1.40" fill="#b9d2ef"/>
<circle cx="227.78" cy="150.43" r="0.82" fill="#b9d2ef"/>
<circle cx="226.27" cy="146.75" r="1.18" fill="#b9d2ef"/>
<circle cx="226.91" cy="144.67" r="0.92" fill="#b9d2ef"/>
<circle cx="232.23" cy="138.92" r="1.18" fill="#b9d2ef"/>
<circle cx="238.30" cy="139.31" r="1.30" fill="#b9d2ef"/>
<circle cx="244.63" cy="142.38" r="1.17" fill="#b9d2ef"/>
<circle cx="245.64" cy="146.07" r="1.20" fill="#b9d2ef"/>
<circle cx="244.88" cy="148.15" r="1.42" fill="#b9d2ef"/>
<circle cx="240.46" cy="150.90" r="1.31" fill="#b9d2ef"/>
<circle cx="231.01" cy="151.87" r="1.22" fill="#b9d2ef"/>
<g clip-path="url(#cl6)">
<path d="M228.35,145.62 C228.61,144.48 229.25,142.49 230.16,141.49 C231.07,140.49 232.42,139.82 233.82,139.61 C235.21,139.40 236.89,139.73 238.52,140.23 C240.15,140.74 242.61,141.60 243.61,142.66 C244.60,143.72 244.94,145.68 244.51,146.61 C244.08,147.53 242.17,147.46 241.04,148.22 C239.91,148.99 239.22,150.92 237.71,151.18 C236.21,151.45 233.52,150.31 232.01,149.84 C230.50,149.37 229.25,149.06 228.64,148.36 C228.03,147.65 228.10,146.76 228.35,145.62 Z" fill="#8ab0e0"/>
<path d="M231.59,147.50 Q232.00,147.37 232.29,149.10" stroke="#2a68b4" stroke-width="0.7" fill="none" stroke-linecap="round"/>
<path d="M244.07,145.26 Q243.65,145.68 241.58,146.86" stroke="#2a68b4" stroke-width="0.7" fill="none" stroke-linecap="round"/>
<path d="M234.67,141.21 Q233.41,140.78 232.42,139.67" stroke="#2a68b4" stroke-width="0.7" fill="none" stroke-linecap="round"/>
<path d="M236.05,145.23 Q235.09,147.06 234.51,147.20" stroke="#2a68b4" stroke-width="0.7" fill="none" stroke-linecap="round"/>
<path d="M244.49,144.88 Q245.24,145.95 247.30,146.84" stroke="#2a68b4" stroke-width="0.7" fill="none" stroke-linecap="round"/>
<path d="M233.34,141.80 Q233.72,143.19 233.96,143.40" stroke="#2a68b4" stroke-width="0.7" fill="none" stroke-linecap="round"/>
<path d="M238.62,143.44 Q240.44,144.67 240.96,144.23" stroke="#2a68b4" stroke-width="0.7" fill="none" stroke-linecap="round"/>
<path d="M237.25,141.98 Q236.84,142.25 234.48,141.56" stroke="#2a68b4" stroke-width="0.7" fill="none" stroke-linecap="round"/>
<path d="M237.11,142.90 Q236.77,144.38 235.16,145.44" stroke="#2a68b4" stroke-width="0.7" fill="none" stroke-linecap="round"/>
<path d="M242.72,145.42 Q241.30,144.93 241.18,143.68" stroke="#2a68b4" stroke-width="0.7" fill="none" stroke-linecap="round"/>
<path d="M234.83,139.00 Q235.22,138.20 237.13,138.52" stroke="#2a68b4" stroke-width="0.7" fill="none" stroke-linecap="round"/>
<path d="M233.25,141.24 Q233.04,141.57 232.94,143.06" stroke="#2a68b4" stroke-width="0.7" fill="none" stroke-linecap="round"/>
<path d="M234.58,145.77 Q234.77,145.71 235.45,144.28" stroke="#2a68b4" stroke-width="0.7" fill="none" stroke-linecap="round"/>
<path d="M228.10,149.15 Q227.37,150.14 225.78,151.26" stroke="#2a68b4" stroke-width="0.7" fill="none" stroke-linecap="round"/>
<path d="M231.04,141.90 Q231.72,143.26 233.76,143.08" stroke="#2a68b4" stroke-width="0.7" fill="none" stroke-linecap="round"/>
<path d="M238.13,142.09 Q237.41,140.63 236.75,141.04" stroke="#2a68b4" stroke-width="0.7" fill="none" stroke-linecap="round"/>
<path d="M240.11,143.54 Q241.24,143.46 243.42,143.24" stroke="#2a68b4" stroke-width="0.7" fill="none" stroke-linecap="round"/>
<path d="M229.97,148.92 Q230.07,148.44 230.66,147.40" stroke="#2a68b4" stroke-width="0.7" fill="none" stroke-linecap="round"/>
<path d="M231.96,148.18 Q231.52,147.83 229.71,147.43" stroke="#2a68b4" stroke-width="0.7" fill="none" stroke-linecap="round"/>
<path d="M230.39,142.76 Q231.49,142.26 231.80,140.50" stroke="#2a68b4" stroke-width="0.7" fill="none" stroke-linecap="round"/>
<path d="M243.74,145.26 Q244.63,144.45 245.96,143.02" stroke="#2a68b4" stroke-width="0.7" fill="none" stroke-linecap="round"/>
<path d="M230.10,141.83 Q229.36,143.49 228.56,143.28" stroke="#2a68b4" stroke-width="0.7" fill="none" stroke-linecap="round"/>
<path d="M230.85,148.58 Q230.28,146.86 228.66,147.02" stroke="#2a68b4" stroke-width="0.7" fill="none" stroke-linecap="round"/>
<path d="M245.01,147.64 Q244.57,146.18 245.85,146.00" stroke="#2a68b4" stroke-width="0.7" fill="none" stroke-linecap="round"/>
<path d="M238.43,144.56 Q237.68,144.99 235.97,146.07" stroke="#2a68b4" stroke-width="0.7" fill="none" stroke-linecap="round"/>
<path d="M246.17,147.44 Q247.79,146.14 248.81,145.56" stroke="#2a68b4" stroke-width="0.7" fill="none" stroke-linecap="round"/>
<path d="M231.70,140.20 Q231.76,139.33 233.70,139.20" stroke="#2a68b4" stroke-width="0.7" fill="none" stroke-linecap="round"/>
<path d="M229.82,146.21 Q230.24,147.08 230.99,148.52" stroke="#2a68b4" stroke-width="0.7" fill="none" stroke-linecap="round"/>
<path d="M241.79,143.66 Q242.82,141.52 244.35,141.20" stroke="#2a68b4" stroke-width="0.7" fill="none" stroke-linecap="round"/>
<path d="M244.47,143.59 Q244.83,143.64 245.94,145.12" stroke="#2a68b4" stroke-width="0.7" fill="none" stroke-linecap="round"/>
<path d="M230.92,151.02 Q232.50,151.88 232.89,152.72" stroke="#2a68b4" stroke-width="0.7" fill="none" stroke-linecap="round"/>
<path d="M229.03,147.44 Q230.15,146.98 231.44,146.00" stroke="#2a68b4" stroke-width="0.7" fill="none" stroke-linecap="round"/>
<path d="M229.90,150.94 Q228.91,148.94 228.77,148.87" stroke="#2a68b4" stroke-width="0.7" fill="none" stroke-linecap="round"/>
<path d="M228.58,147.60 Q228.71,146.85 228.95,145.56" stroke="#2a68b4" stroke-width="0.7" fill="none" stroke-linecap="round"/>
<path d="M237.70,144.97 Q236.22,144.77 235.77,143.82" stroke="#2a68b4" stroke-width="0.7" fill="none" stroke-linecap="round"/>
<path d="M243.63,144.56 Q242.51,145.04 241.76,143.86" stroke="#2a68b4" stroke-width="0.7" fill="none" stroke-linecap="round"/>
<path d="M239.00,140.21 Q239.54,139.09 241.17,137.86" stroke="#2a68b4" stroke-width="0.7" fill="none" stroke-linecap="round"/>
<path d="M240.49,142.90 Q240.29,144.86 240.67,145.64" stroke="#2a68b4" stroke-width="0.7" fill="none" stroke-linecap="round"/>
<path d="M235.95,143.18 Q235.39,144.87 236.30,145.63" stroke="#2a68b4" stroke-width="0.7" fill="none" stroke-linecap="round"/>
<path d="M229.59,147.55 Q230.11,147.04 229.92,145.68" stroke="#2a68b4" stroke-width="0.7" fill="none" stroke-linecap="round"/>
<path d="M230.50,143.06 Q228.88,142.07 229.21,141.31" stroke="#2a68b4" stroke-width="0.7" fill="none" stroke-linecap="round"/>
<path d="M241.24,146.35 Q239.46,146.05 239.27,146.25" stroke="#2a68b4" stroke-width="0.7" fill="none" stroke-linecap="round"/>
<path d="M235.35,139.00 Q234.17,138.89 233.20,138.98" stroke="#2a68b4" stroke-width="0.7" fill="none" stroke-linecap="round"/>
<path d="M240.79,140.35 Q240.62,141.12 242.23,143.38" stroke="#2a68b4" stroke-width="0.7" fill="none" stroke-linecap="round"/>
<path d="M230.64,148.53 Q231.60,147.73 233.21,147.20" stroke="#2a68b4" stroke-width="0.7" fill="none" stroke-linecap="round"/>
<path d="M240.30,144.42 Q239.27,145.02 238.85,145.38" stroke="#2a68b4" stroke-width="0.7" fill="none" stroke-linecap="round"/>
<path d="M231.91,149.18 Q230.57,149.13 228.48,148.93" stroke="#2a68b4" stroke-width="0.7" fill="none" stroke-linecap="round"/>
<path d="M232.22,148.83 Q230.23,149.42 229.92,149.54" stroke="#2a68b4" stroke-width="0.7" fill="none" stroke-linecap="round"/>
<path d="M242.67,142.57 Q240.79,141.09 240.22,140.47" stroke="#2a68b4" stroke-width="0.7" fill="none" stroke-linecap="round"/>
<path d="M238.01,144.28 Q237.26,145.13 236.69,147.30" stroke="#2a68b4" stroke-width="0.7" fill="none" stroke-linecap="round"/>
</g>
<path d="M202.1,164.6 L202.1,160" stroke="#2b2a7a" stroke-width="1.7"/>
<path d="M199.1,161.2 L202.1,155.8 L205.1,161.2 Z" fill="#2b2a7a"/>
<text x="187.10" y="172.60" font-size="8.9" font-weight="bold" fill="#2b2a7a" text-anchor="start" textLength="28.00" lengthAdjust="spacingAndGlyphs" stroke="#2b2a7a" stroke-width="0.35">External</text>
<text x="193.40" y="182.60" font-size="8.9" font-weight="bold" fill="#2b2a7a" text-anchor="start" textLength="17.00" lengthAdjust="spacingAndGlyphs" stroke="#2b2a7a" stroke-width="0.35">Light</text>
<path d="M463.75,133.50 L463.75,128.40" stroke="#1a9f45" stroke-width="1.9" fill="none"/>
<path d="M463.75,124.50 L466.45,128.90 L461.05,128.90 Z" fill="#1a9f45"/>
<path d="M460.15,133.20 L456.58,129.93" stroke="#1a9f45" stroke-width="1.9" fill="none"/>
<path d="M453.70,127.30 L458.77,128.28 L455.12,132.26 Z" fill="#1a9f45"/>
<path d="M467.35,133.20 L470.92,129.93" stroke="#1a9f45" stroke-width="1.9" fill="none"/>
<path d="M473.80,127.30 L472.38,132.26 L468.73,128.28 Z" fill="#1a9f45"/>
<path d="M497.70,133.50 L497.70,128.40" stroke="#1a7fd0" stroke-width="1.9" fill="none"/>
<path d="M497.70,124.50 L500.40,128.90 L495.00,128.90 Z" fill="#1a7fd0"/>
<path d="M494.10,133.20 L490.88,130.03" stroke="#1a7fd0" stroke-width="1.9" fill="none"/>
<path d="M488.10,127.30 L493.13,128.46 L489.34,132.31 Z" fill="#1a7fd0"/>
<path d="M501.30,133.20 L504.52,130.03" stroke="#1a7fd0" stroke-width="1.9" fill="none"/>
<path d="M507.30,127.30 L506.06,132.31 L502.27,128.46 Z" fill="#1a7fd0"/>
<clipPath id="cl7"><rect x="449.70" y="135.10" width="29.60" height="21.00" rx="5.18" ry="4.73"/></clipPath>
<g clip-path="url(#cl7)">
<circle cx="452.23" cy="139.09" r="2.17" fill="#b0eec0"/>
<circle cx="469.13" cy="139.53" r="1.82" fill="#b0eec0"/>
<circle cx="457.75" cy="149.93" r="1.87" fill="#b0eec0"/>
<circle cx="470.55" cy="148.32" r="1.85" fill="#b0eec0"/>
<circle cx="465.40" cy="144.72" r="2.20" fill="#b0eec0"/>
<circle cx="476.99" cy="138.76" r="1.71" fill="#b0eec0"/>
<circle cx="475.57" cy="143.97" r="1.93" fill="#b0eec0"/>
<circle cx="460.23" cy="143.33" r="2.88" fill="#b0eec0"/>
<circle cx="457.21" cy="140.84" r="2.42" fill="#b0eec0"/>
<circle cx="465.69" cy="153.22" r="2.74" fill="#b0eec0"/>
<circle cx="460.86" cy="140.62" r="2.73" fill="#b0eec0"/>
<circle cx="476.80" cy="137.71" r="2.61" fill="#b0eec0"/>
<circle cx="473.77" cy="148.14" r="1.96" fill="#b0eec0"/>
<circle cx="471.96" cy="149.46" r="1.92" fill="#b0eec0"/>
<circle cx="468.04" cy="140.88" r="1.73" fill="#b0eec0"/>
<circle cx="460.37" cy="142.82" r="2.18" fill="#b0eec0"/>
<circle cx="468.19" cy="151.25" r="2.89" fill="#b0eec0"/>
<circle cx="476.49" cy="153.89" r="2.68" fill="#b0eec0"/>
<circle cx="459.63" cy="140.16" r="2.47" fill="#b0eec0"/>
<circle cx="465.65" cy="148.53" r="1.80" fill="#b0eec0"/>
<circle cx="456.77" cy="152.67" r="2.44" fill="#b0eec0"/>
<circle cx="469.42" cy="138.81" r="2.18" fill="#b0eec0"/>
<circle cx="474.82" cy="148.11" r="2.93" fill="#b0eec0"/>
<circle cx="456.87" cy="144.84" r="2.69" fill="#b0eec0"/>
<circle cx="463.11" cy="150.45" r="2.39" fill="#b0eec0"/>
<circle cx="454.89" cy="138.86" r="2.92" fill="#b0eec0"/>
<circle cx="454.92" cy="140.46" r="2.10" fill="#b0eec0"/>
<circle cx="469.87" cy="151.55" r="2.28" fill="#b0eec0"/>
<circle cx="464.45" cy="150.45" r="2.03" fill="#b0eec0"/>
<circle cx="461.29" cy="147.49" r="2.48" fill="#b0eec0"/>
<circle cx="452.88" cy="139.08" r="1.85" fill="#b0eec0"/>
<circle cx="470.16" cy="148.84" r="2.91" fill="#b0eec0"/>
<circle cx="471.23" cy="141.48" r="2.64" fill="#b0eec0"/>
<circle cx="476.70" cy="143.06" r="1.69" fill="#b0eec0"/>
<circle cx="461.36" cy="141.95" r="1.90" fill="#b0eec0"/>
<circle cx="453.05" cy="139.30" r="2.77" fill="#b0eec0"/>
<circle cx="453.18" cy="147.51" r="1.94" fill="#b0eec0"/>
<circle cx="456.78" cy="150.99" r="2.06" fill="#b0eec0"/>
<circle cx="456.55" cy="144.84" r="2.56" fill="#b0eec0"/>
<circle cx="465.11" cy="151.64" r="2.19" fill="#b0eec0"/>
<circle cx="465.10" cy="149.25" r="2.26" fill="#b0eec0"/>
<circle cx="469.96" cy="145.04" r="1.85" fill="#b0eec0"/>
<circle cx="455.03" cy="150.36" r="2.62" fill="#b0eec0"/>
<circle cx="475.64" cy="148.79" r="2.41" fill="#b0eec0"/>
<circle cx="456.10" cy="151.53" r="1.83" fill="#b0eec0"/>
<circle cx="462.61" cy="139.56" r="2.16" fill="#b0eec0"/>
<circle cx="459.65" cy="144.35" r="2.58" fill="#b0eec0"/>
<circle cx="465.55" cy="141.28" r="2.66" fill="#b0eec0"/>
<circle cx="470.42" cy="151.10" r="1.72" fill="#b0eec0"/>
<circle cx="467.39" cy="152.24" r="2.01" fill="#b0eec0"/>
<circle cx="457.01" cy="150.87" r="2.14" fill="#b0eec0"/>
<circle cx="462.02" cy="150.94" r="2.16" fill="#b0eec0"/>
<circle cx="456.91" cy="140.80" r="2.12" fill="#b0eec0"/>
<circle cx="469.48" cy="143.39" r="2.65" fill="#b0eec0"/>
<circle cx="453.58" cy="141.38" r="2.47" fill="#b0eec0"/>
<circle cx="463.98" cy="145.60" r="2.86" fill="#b0eec0"/>
<circle cx="458.90" cy="140.25" r="1.72" fill="#b0eec0"/>
<circle cx="464.06" cy="142.19" r="2.28" fill="#b0eec0"/>
<circle cx="452.06" cy="137.20" r="2.16" fill="#b0eec0"/>
<circle cx="470.98" cy="142.25" r="2.83" fill="#b0eec0"/>
<circle cx="466.50" cy="143.98" r="2.66" fill="#b0eec0"/>
<circle cx="457.79" cy="147.37" r="2.75" fill="#b0eec0"/>
<circle cx="465.53" cy="142.57" r="1.80" fill="#b0eec0"/>
<circle cx="466.36" cy="140.35" r="2.15" fill="#b0eec0"/>
<circle cx="465.57" cy="153.01" r="2.53" fill="#b0eec0"/>
<circle cx="464.99" cy="151.62" r="2.07" fill="#b0eec0"/>
<circle cx="461.67" cy="148.58" r="2.38" fill="#b0eec0"/>
<circle cx="457.50" cy="144.10" r="2.72" fill="#b0eec0"/>
<circle cx="458.02" cy="149.06" r="1.74" fill="#b0eec0"/>
<circle cx="475.94" cy="148.69" r="2.09" fill="#b0eec0"/>
<rect x="452.66" y="138.04" width="23.68" height="15.12" rx="3.70" fill="#4fd672"/>
<path d="M475.23,149.96 Q477.08,148.83 477.08,147.40 T477.08,145.24" stroke="#17b846" stroke-width="0.95" fill="none" stroke-linecap="round"/>
<path d="M474.15,141.56 Q471.20,141.54 468.78,141.60 T465.67,140.60" stroke="#17b846" stroke-width="0.95" fill="none" stroke-linecap="round"/>
<path d="M453.48,148.23 Q451.92,148.50 451.92,149.57 T451.92,151.09" stroke="#17b846" stroke-width="0.95" fill="none" stroke-linecap="round"/>
<path d="M467.14,141.22 Q468.01,144.15 470.90,145.74 T473.26,146.83" stroke="#17b846" stroke-width="0.95" fill="none" stroke-linecap="round"/>
<path d="M471.53,149.06 Q468.58,150.76 466.97,151.84 T463.72,153.47" stroke="#17b846" stroke-width="0.95" fill="none" stroke-linecap="round"/>
<path d="M472.73,140.09 Q470.22,139.58 468.04,137.28 T467.67,137.20" stroke="#17b846" stroke-width="0.95" fill="none" stroke-linecap="round"/>
<path d="M471.62,144.43 Q472.14,142.56 473.80,141.43 T475.75,140.96" stroke="#17b846" stroke-width="0.95" fill="none" stroke-linecap="round"/>
<path d="M470.85,142.16 Q468.86,142.32 466.02,141.42 T463.57,140.69" stroke="#17b846" stroke-width="0.95" fill="none" stroke-linecap="round"/>
<path d="M468.75,145.34 Q470.37,142.60 470.62,141.08 T470.12,138.38" stroke="#17b846" stroke-width="0.95" fill="none" stroke-linecap="round"/>
<path d="M472.14,150.27 Q474.64,152.33 477.08,153.33 T477.08,154.00" stroke="#17b846" stroke-width="0.95" fill="none" stroke-linecap="round"/>
<path d="M465.44,150.83 Q463.30,151.11 461.20,150.87 T458.98,148.72" stroke="#17b846" stroke-width="0.95" fill="none" stroke-linecap="round"/>
<path d="M469.35,149.13 Q466.50,148.93 463.12,150.42 T461.12,151.87" stroke="#17b846" stroke-width="0.95" fill="none" stroke-linecap="round"/>
<path d="M473.32,150.35 Q472.48,153.14 470.86,154.00 T470.22,154.00" stroke="#17b846" stroke-width="0.95" fill="none" stroke-linecap="round"/>
<path d="M455.52,145.03 Q453.74,142.49 451.92,141.35 T451.92,140.25" stroke="#17b846" stroke-width="0.95" fill="none" stroke-linecap="round"/>
<path d="M457.14,139.69 Q459.08,138.85 460.13,137.20 T460.26,137.20" stroke="#17b846" stroke-width="0.95" fill="none" stroke-linecap="round"/>
<path d="M460.01,150.32 Q460.08,148.34 460.77,146.35 T461.66,144.30" stroke="#17b846" stroke-width="0.95" fill="none" stroke-linecap="round"/>
<path d="M459.78,149.53 Q461.26,146.70 463.38,144.02 T464.30,141.94" stroke="#17b846" stroke-width="0.95" fill="none" stroke-linecap="round"/>
<path d="M469.34,151.22 Q469.84,153.81 471.08,154.00 T474.49,154.00" stroke="#17b846" stroke-width="0.95" fill="none" stroke-linecap="round"/>
<path d="M466.75,148.11 Q464.47,149.10 463.01,151.09 T462.28,152.86" stroke="#17b846" stroke-width="0.95" fill="none" stroke-linecap="round"/>
<path d="M467.75,147.98 Q464.37,148.61 461.82,149.53 T457.93,150.57" stroke="#17b846" stroke-width="0.95" fill="none" stroke-linecap="round"/>
<path d="M454.33,145.06 Q451.92,146.39 451.92,147.71 T451.92,148.56" stroke="#17b846" stroke-width="0.95" fill="none" stroke-linecap="round"/>
<path d="M472.41,149.53 Q471.60,148.20 469.01,146.44 T468.59,143.25" stroke="#17b846" stroke-width="0.95" fill="none" stroke-linecap="round"/>
<path d="M459.66,152.54 Q459.35,154.00 460.00,154.00 T460.72,154.00" stroke="#17b846" stroke-width="0.95" fill="none" stroke-linecap="round"/>
<path d="M466.67,149.13 Q465.75,150.93 462.24,152.13 T461.17,154.00" stroke="#17b846" stroke-width="0.95" fill="none" stroke-linecap="round"/>
<path d="M454.35,148.13 Q457.22,148.29 460.60,149.30 T461.69,150.81" stroke="#17b846" stroke-width="0.95" fill="none" stroke-linecap="round"/>
<path d="M460.94,152.21 Q458.91,152.47 457.26,153.29 T454.44,153.94" stroke="#17b846" stroke-width="0.95" fill="none" stroke-linecap="round"/>
<path d="M460.16,144.71 Q460.73,147.17 461.02,148.68 T462.77,149.80" stroke="#17b846" stroke-width="0.95" fill="none" stroke-linecap="round"/>
<path d="M459.11,144.82 Q458.85,143.16 457.67,140.32 T456.41,139.01" stroke="#17b846" stroke-width="0.95" fill="none" stroke-linecap="round"/>
<path d="M470.44,150.26 Q473.96,151.36 476.24,154.00 T477.08,154.00" stroke="#17b846" stroke-width="0.95" fill="none" stroke-linecap="round"/>
<path d="M470.85,151.32 Q474.59,151.41 476.77,153.29 T477.08,154.00" stroke="#17b846" stroke-width="0.95" fill="none" stroke-linecap="round"/>
<path d="M454.66,151.76 Q457.30,150.37 458.05,148.56 T458.30,145.64" stroke="#17b846" stroke-width="0.95" fill="none" stroke-linecap="round"/>
<path d="M468.08,147.13 Q464.98,147.12 463.47,147.87 T461.90,150.43" stroke="#17b846" stroke-width="0.95" fill="none" stroke-linecap="round"/>
<path d="M455.96,140.22 Q456.86,143.07 456.65,145.13 T455.32,146.72" stroke="#17b846" stroke-width="0.95" fill="none" stroke-linecap="round"/>
<path d="M459.56,143.83 Q458.88,145.33 457.42,147.22 T456.53,149.88" stroke="#17b846" stroke-width="0.95" fill="none" stroke-linecap="round"/>
<circle cx="460.13" cy="141.46" r="0.45" fill="#c8f5c8" opacity="0.8"/>
<circle cx="469.76" cy="150.07" r="0.45" fill="#c8f5c8" opacity="0.8"/>
<circle cx="469.96" cy="146.28" r="0.45" fill="#c8f5c8" opacity="0.8"/>
<circle cx="468.36" cy="149.79" r="0.45" fill="#c8f5c8" opacity="0.8"/>
<circle cx="456.31" cy="143.28" r="0.45" fill="#c8f5c8" opacity="0.8"/>
<circle cx="461.93" cy="148.29" r="0.45" fill="#c8f5c8" opacity="0.8"/>
<circle cx="461.59" cy="148.65" r="0.45" fill="#c8f5c8" opacity="0.8"/>
<circle cx="460.19" cy="150.76" r="0.45" fill="#c8f5c8" opacity="0.8"/>
<circle cx="463.35" cy="146.65" r="0.45" fill="#c8f5c8" opacity="0.8"/>
<circle cx="466.78" cy="149.31" r="0.45" fill="#c8f5c8" opacity="0.8"/>
<circle cx="465.63" cy="142.27" r="0.45" fill="#c8f5c8" opacity="0.8"/>
<circle cx="463.45" cy="146.32" r="0.45" fill="#c8f5c8" opacity="0.8"/>
<circle cx="456.91" cy="149.40" r="0.45" fill="#c8f5c8" opacity="0.8"/>
<circle cx="461.08" cy="150.46" r="0.45" fill="#c8f5c8" opacity="0.8"/>
<circle cx="462.23" cy="150.81" r="0.45" fill="#c8f5c8" opacity="0.8"/>
<circle cx="468.44" cy="144.37" r="0.45" fill="#c8f5c8" opacity="0.8"/>
<circle cx="468.08" cy="139.83" r="0.45" fill="#c8f5c8" opacity="0.8"/>
</g>
<path d="M480.9,145.8 L486.6,145.8" stroke="#fa5a0c" stroke-width="1.1"/>
<path d="M486.32,146.06 C486.66,144.42 487.53,141.60 488.75,140.17 C489.98,138.74 491.80,137.78 493.68,137.48 C495.56,137.18 497.82,137.65 500.02,138.38 C502.21,139.10 505.52,140.32 506.86,141.83 C508.21,143.35 508.66,146.14 508.08,147.46 C507.50,148.79 504.93,148.68 503.41,149.77 C501.88,150.86 500.95,153.61 498.93,153.99 C496.90,154.38 493.29,152.74 491.25,152.07 C489.21,151.40 487.53,150.96 486.70,149.96 C485.88,148.96 485.98,147.69 486.32,146.06 Z" fill="#b9d2ef"/>
<clipPath id="cl8"><path d="M486.32,146.06 C486.66,144.42 487.53,141.60 488.75,140.17 C489.98,138.74 491.80,137.78 493.68,137.48 C495.56,137.18 497.82,137.65 500.02,138.38 C502.21,139.10 505.52,140.32 506.86,141.83 C508.21,143.35 508.66,146.14 508.08,147.46 C507.50,148.79 504.93,148.68 503.41,149.77 C501.88,150.86 500.95,153.61 498.93,153.99 C496.90,154.38 493.29,152.74 491.25,152.07 C489.21,151.40 487.53,150.96 486.70,149.96 C485.88,148.96 485.98,147.69 486.32,146.06 Z"/></clipPath>
<circle cx="487.79" cy="145.62" r="0.90" fill="#b9d2ef"/>
<circle cx="491.08" cy="140.13" r="1.34" fill="#b9d2ef"/>
<circle cx="496.87" cy="138.87" r="1.23" fill="#b9d2ef"/>
<circle cx="500.28" cy="139.57" r="1.09" fill="#b9d2ef"/>
<circle cx="506.61" cy="146.49" r="1.10" fill="#b9d2ef"/>
<circle cx="502.89" cy="149.18" r="1.33" fill="#b9d2ef"/>
<circle cx="501.20" cy="150.67" r="0.77" fill="#b9d2ef"/>
<circle cx="493.62" cy="151.73" r="0.85" fill="#b9d2ef"/>
<circle cx="491.92" cy="151.30" r="1.24" fill="#b9d2ef"/>
<circle cx="487.68" cy="146.57" r="1.30" fill="#b9d2ef"/>
<circle cx="489.67" cy="141.09" r="0.90" fill="#b9d2ef"/>
<circle cx="490.12" cy="140.65" r="0.85" fill="#b9d2ef"/>
<circle cx="499.55" cy="139.25" r="0.84" fill="#b9d2ef"/>
<circle cx="500.64" cy="139.75" r="0.78" fill="#b9d2ef"/>
<circle cx="505.76" cy="142.55" r="0.79" fill="#b9d2ef"/>
<circle cx="505.32" cy="147.98" r="0.87" fill="#b9d2ef"/>
<circle cx="501.44" cy="150.44" r="1.36" fill="#b9d2ef"/>
<circle cx="497.59" cy="152.73" r="1.29" fill="#b9d2ef"/>
<g clip-path="url(#cl8)">
<path d="M489.69,145.33 C489.93,144.22 490.55,142.30 491.44,141.33 C492.32,140.36 493.63,139.71 494.99,139.50 C496.34,139.30 497.97,139.62 499.55,140.11 C501.13,140.60 503.51,141.43 504.48,142.46 C505.45,143.49 505.77,145.39 505.35,146.29 C504.94,147.19 503.09,147.12 501.99,147.86 C500.89,148.60 500.22,150.47 498.76,150.73 C497.30,150.99 494.70,149.88 493.23,149.42 C491.77,148.97 490.55,148.67 489.96,147.99 C489.37,147.31 489.44,146.44 489.69,145.33 Z" fill="#8ab0e0"/>
<path d="M502.46,142.66 Q502.11,140.98 502.80,139.96" stroke="#2a68b4" stroke-width="0.7" fill="none" stroke-linecap="round"/>
<path d="M492.77,146.70 Q491.95,147.69 491.22,147.47" stroke="#2a68b4" stroke-width="0.7" fill="none" stroke-linecap="round"/>
<path d="M497.57,139.17 Q498.03,139.34 500.22,140.27" stroke="#2a68b4" stroke-width="0.7" fill="none" stroke-linecap="round"/>
<path d="M494.77,139.23 Q496.85,140.17 498.20,139.37" stroke="#2a68b4" stroke-width="0.7" fill="none" stroke-linecap="round"/>
<path d="M499.26,144.04 Q498.32,142.63 497.34,142.28" stroke="#2a68b4" stroke-width="0.7" fill="none" stroke-linecap="round"/>
<path d="M496.30,140.35 Q497.26,139.93 497.82,138.26" stroke="#2a68b4" stroke-width="0.7" fill="none" stroke-linecap="round"/>
<path d="M499.43,140.22 Q501.12,140.41 501.08,140.23" stroke="#2a68b4" stroke-width="0.7" fill="none" stroke-linecap="round"/>
<path d="M506.43,144.31 Q507.99,143.16 509.73,143.62" stroke="#2a68b4" stroke-width="0.7" fill="none" stroke-linecap="round"/>
<path d="M493.41,141.90 Q495.62,142.08 495.99,143.37" stroke="#2a68b4" stroke-width="0.7" fill="none" stroke-linecap="round"/>
<path d="M503.14,142.53 Q504.73,141.00 505.08,141.25" stroke="#2a68b4" stroke-width="0.7" fill="none" stroke-linecap="round"/>
<path d="M504.46,142.16 Q505.90,141.65 506.66,140.13" stroke="#2a68b4" stroke-width="0.7" fill="none" stroke-linecap="round"/>
<path d="M494.38,141.17 Q495.53,140.56 497.72,140.17" stroke="#2a68b4" stroke-width="0.7" fill="none" stroke-linecap="round"/>
<path d="M498.31,138.56 Q498.91,136.93 499.31,136.73" stroke="#2a68b4" stroke-width="0.7" fill="none" stroke-linecap="round"/>
<path d="M492.27,147.54 Q494.36,146.44 495.48,146.96" stroke="#2a68b4" stroke-width="0.7" fill="none" stroke-linecap="round"/>
<path d="M501.14,141.79 Q502.98,143.10 502.93,142.58" stroke="#2a68b4" stroke-width="0.7" fill="none" stroke-linecap="round"/>
<path d="M492.55,144.79 Q492.50,144.98 490.60,144.70" stroke="#2a68b4" stroke-width="0.7" fill="none" stroke-linecap="round"/>
<path d="M493.85,142.55 Q493.07,142.01 493.87,140.60" stroke="#2a68b4" stroke-width="0.7" fill="none" stroke-linecap="round"/>
<path d="M504.45,144.62 Q502.89,143.21 502.75,142.66" stroke="#2a68b4" stroke-width="0.7" fill="none" stroke-linecap="round"/>
<path d="M491.64,141.63 Q491.52,141.93 490.07,142.91" stroke="#2a68b4" stroke-width="0.7" fill="none" stroke-linecap="round"/>
<path d="M506.45,143.91 Q507.16,145.09 507.97,146.13" stroke="#2a68b4" stroke-width="0.7" fill="none" stroke-linecap="round"/>
<path d="M491.64,148.26 Q491.47,148.22 489.68,148.97" stroke="#2a68b4" stroke-width="0.7" fill="none" stroke-linecap="round"/>
<path d="M506.51,142.61 Q506.16,142.76 504.72,143.22" stroke="#2a68b4" stroke-width="0.7" fill="none" stroke-linecap="round"/>
<path d="M492.51,149.49 Q490.64,149.58 490.41,147.81" stroke="#2a68b4" stroke-width="0.7" fill="none" stroke-linecap="round"/>
<path d="M494.24,142.85 Q494.19,142.97 492.63,143.13" stroke="#2a68b4" stroke-width="0.7" fill="none" stroke-linecap="round"/>
<path d="M497.08,144.70 Q496.46,142.30 496.43,141.42" stroke="#2a68b4" stroke-width="0.7" fill="none" stroke-linecap="round"/>
<path d="M495.37,144.52 Q495.43,143.44 495.10,141.73" stroke="#2a68b4" stroke-width="0.7" fill="none" stroke-linecap="round"/>
<path d="M497.76,142.05 Q497.83,143.56 497.48,143.77" stroke="#2a68b4" stroke-width="0.7" fill="none" stroke-linecap="round"/>
<path d="M494.34,143.89 Q494.03,141.60 492.97,140.92" stroke="#2a68b4" stroke-width="0.7" fill="none" stroke-linecap="round"/>
<path d="M499.58,141.28 Q499.39,141.26 498.70,139.56" stroke="#2a68b4" stroke-width="0.7" fill="none" stroke-linecap="round"/>
<path d="M492.07,149.11 Q490.00,149.33 489.54,150.85" stroke="#2a68b4" stroke-width="0.7" fill="none" stroke-linecap="round"/>
<path d="M506.32,143.75 Q507.26,145.59 508.01,145.54" stroke="#2a68b4" stroke-width="0.7" fill="none" stroke-linecap="round"/>
<path d="M492.78,144.51 Q490.46,144.55 489.59,143.31" stroke="#2a68b4" stroke-width="0.7" fill="none" stroke-linecap="round"/>
<path d="M501.37,139.58 Q501.04,137.27 501.31,136.35" stroke="#2a68b4" stroke-width="0.7" fill="none" stroke-linecap="round"/>
<path d="M499.50,140.73 Q498.05,140.68 497.98,141.69" stroke="#2a68b4" stroke-width="0.7" fill="none" stroke-linecap="round"/>
<path d="M501.35,140.27 Q499.87,140.95 499.39,140.72" stroke="#2a68b4" stroke-width="0.7" fill="none" stroke-linecap="round"/>
<path d="M493.16,140.89 Q491.60,140.13 490.24,140.57" stroke="#2a68b4" stroke-width="0.7" fill="none" stroke-linecap="round"/>
<path d="M489.63,148.29 Q490.63,148.16 491.58,149.72" stroke="#2a68b4" stroke-width="0.7" fill="none" stroke-linecap="round"/>
<path d="M502.37,143.33 Q501.70,144.69 499.33,144.32" stroke="#2a68b4" stroke-width="0.7" fill="none" stroke-linecap="round"/>
<path d="M506.14,148.26 Q505.52,147.12 506.30,146.04" stroke="#2a68b4" stroke-width="0.7" fill="none" stroke-linecap="round"/>
<path d="M500.87,141.12 Q501.13,142.21 502.33,141.95" stroke="#2a68b4" stroke-width="0.7" fill="none" stroke-linecap="round"/>
<path d="M489.62,147.45 Q489.73,146.39 491.60,147.05" stroke="#2a68b4" stroke-width="0.7" fill="none" stroke-linecap="round"/>
<path d="M493.39,143.77 Q493.49,143.70 495.21,144.52" stroke="#2a68b4" stroke-width="0.7" fill="none" stroke-linecap="round"/>
<path d="M490.03,145.35 Q489.92,146.19 490.32,148.15" stroke="#2a68b4" stroke-width="0.7" fill="none" stroke-linecap="round"/>
<path d="M491.29,151.74 Q492.57,150.94 494.10,150.79" stroke="#2a68b4" stroke-width="0.7" fill="none" stroke-linecap="round"/>
<path d="M492.27,144.13 Q493.57,144.20 494.11,143.38" stroke="#2a68b4" stroke-width="0.7" fill="none" stroke-linecap="round"/>
<path d="M501.17,138.87 Q502.15,140.80 502.73,140.94" stroke="#2a68b4" stroke-width="0.7" fill="none" stroke-linecap="round"/>
<path d="M502.04,140.37 Q502.96,138.77 502.28,138.77" stroke="#2a68b4" stroke-width="0.7" fill="none" stroke-linecap="round"/>
<path d="M500.85,139.00 Q502.40,138.90 503.10,140.68" stroke="#2a68b4" stroke-width="0.7" fill="none" stroke-linecap="round"/>
<path d="M498.30,143.62 Q497.90,144.19 497.04,144.62" stroke="#2a68b4" stroke-width="0.7" fill="none" stroke-linecap="round"/>
<path d="M496.78,142.65 Q495.58,143.33 494.14,142.96" stroke="#2a68b4" stroke-width="0.7" fill="none" stroke-linecap="round"/>
</g>
<path d="M495.2,152.6 Q493,161.6 478.6,160.2" stroke="#17615c" stroke-width="1.4" stroke-dasharray="1.0,0.75" fill="none"/>
<path d="M472.6,155.2 L479.5,157.2 L474.4,162.0 Z" fill="#17615c"/>
<path d="M498.1,160.5 Q500,155 506,155" stroke="#fa5a0c" stroke-width="1.2" fill="none"/>
<path d="M505.2,152.6 L509.6,155.1 L505.4,157.7 Z" fill="#fa5a0c"/>
<text x="450.20" y="170.10" font-size="9.3" font-weight="bold" fill="#178786" text-anchor="start" textLength="23.60" lengthAdjust="spacingAndGlyphs" stroke="#178786" stroke-width="0.35">Energy</text>
<text x="449.00" y="180.40" font-size="9.3" font-weight="bold" fill="#178786" text-anchor="start" textLength="27.80" lengthAdjust="spacingAndGlyphs" stroke="#178786" stroke-width="0.35">Transfer</text>
<text x="495.00" y="170.00" font-size="8.9" font-weight="bold" fill="#7f7f7f" text-anchor="start" textLength="38.20" lengthAdjust="spacingAndGlyphs" stroke="#7f7f7f" stroke-width="0.25">Furimazine</text>
<text x="507.2" y="181.0" font-size="8.9" font-weight="bold" fill="#7f7f7f" stroke="#7f7f7f" stroke-width="0.25" textLength="10.9" lengthAdjust="spacingAndGlyphs">+ O</text>
<text x="518.50" y="181.60" font-size="5.2" font-weight="bold" fill="#7f7f7f" textLength="2.6" lengthAdjust="spacingAndGlyphs">2</text>
<rect x="51.5" y="216.3" width="75.90" height="75.20" fill="none" stroke="#8c8c8c" stroke-width="1"/>
<path d="M51.50,291.5 L51.50,293.3" stroke="#8c8c8c" stroke-width="0.8"/>
<text x="51.50" y="300.60" font-size="8.5" font-weight="normal" fill="#262626" text-anchor="middle" textLength="10.08" lengthAdjust="spacingAndGlyphs" stroke="#262626" stroke-width="0.22">2.0</text>
<path d="M66.68,291.5 L66.68,293.3" stroke="#8c8c8c" stroke-width="0.8"/>
<text x="66.68" y="300.60" font-size="8.5" font-weight="normal" fill="#262626" text-anchor="middle" textLength="10.08" lengthAdjust="spacingAndGlyphs" stroke="#262626" stroke-width="0.22">2.2</text>
<path d="M81.86,291.5 L81.86,293.3" stroke="#8c8c8c" stroke-width="0.8"/>
<text x="81.86" y="300.60" font-size="8.5" font-weight="normal" fill="#262626" text-anchor="middle" textLength="10.08" lengthAdjust="spacingAndGlyphs" stroke="#262626" stroke-width="0.22">2.4</text>
<path d="M97.04,291.5 L97.04,293.3" stroke="#8c8c8c" stroke-width="0.8"/>
<text x="97.04" y="300.60" font-size="8.5" font-weight="normal" fill="#262626" text-anchor="middle" textLength="10.08" lengthAdjust="spacingAndGlyphs" stroke="#262626" stroke-width="0.22">2.6</text>
<path d="M112.22,291.5 L112.22,293.3" stroke="#8c8c8c" stroke-width="0.8"/>
<text x="112.22" y="300.60" font-size="8.5" font-weight="normal" fill="#262626" text-anchor="middle" textLength="10.08" lengthAdjust="spacingAndGlyphs" stroke="#262626" stroke-width="0.22">2.8</text>
<path d="M127.40,291.5 L127.40,293.3" stroke="#8c8c8c" stroke-width="0.8"/>
<text x="127.40" y="300.60" font-size="8.5" font-weight="normal" fill="#262626" text-anchor="middle" textLength="10.08" lengthAdjust="spacingAndGlyphs" stroke="#262626" stroke-width="0.22">3.0</text>
<path d="M49.7,291.50 L51.5,291.50" stroke="#8c8c8c" stroke-width="0.8"/>
<text x="49.10" y="294.50" font-size="8.5" font-weight="normal" fill="#262626" text-anchor="end" textLength="4.03" lengthAdjust="spacingAndGlyphs" stroke="#262626" stroke-width="0.22">0</text>
<path d="M49.7,266.43 L51.5,266.43" stroke="#8c8c8c" stroke-width="0.8"/>
<text x="49.10" y="269.43" font-size="8.5" font-weight="normal" fill="#262626" text-anchor="end" textLength="26.21" lengthAdjust="spacingAndGlyphs" stroke="#262626" stroke-width="0.22">500,000</text>
<path d="M49.7,241.37 L51.5,241.37" stroke="#8c8c8c" stroke-width="0.8"/>
<text x="49.10" y="244.37" font-size="8.5" font-weight="normal" fill="#262626" text-anchor="end" textLength="32.25" lengthAdjust="spacingAndGlyphs" stroke="#262626" stroke-width="0.22">1,000,000</text>
<path d="M49.7,216.30 L51.5,216.30" stroke="#8c8c8c" stroke-width="0.8"/>
<text x="49.10" y="219.30" font-size="8.5" font-weight="normal" fill="#262626" text-anchor="end" textLength="32.25" lengthAdjust="spacingAndGlyphs" stroke="#262626" stroke-width="0.22">1,500,000</text>
<path d="M65.00,232.33 L66.19,235.23 L67.38,237.99 L68.56,240.63 L69.75,243.14 L70.94,245.54 L72.12,247.83 L73.31,250.01 L74.50,252.09 L75.69,254.07 L76.88,255.96 L78.06,257.76 L79.25,259.48 L80.44,261.12 L81.62,262.69 L82.81,264.18 L84.00,265.60 L85.19,266.95 L86.38,268.25 L87.56,269.48 L88.75,270.66 L89.94,271.78 L91.12,272.85 L92.31,273.87 L93.50,274.84 L94.69,275.77 L95.88,276.65 L97.06,277.49 L98.25,278.30 L99.44,279.06 L100.62,279.80 L101.81,280.49 L103.00,281.16 L104.19,281.79 L105.38,282.40 L106.56,282.97 L107.75,283.52 L108.94,284.05 L110.12,284.55 L111.31,285.03 L112.50,285.48 " stroke="#505050" stroke-width="0.9" fill="none"/>
<path d="M65,218.8 L65,245.9 M63,218.8 L67,218.8 M63,245.9 L67,245.9" stroke="#7a7a7a" stroke-width="1" fill="none"/>
<path d="M81.8,263.6 L81.8,272.2 M79.8,263.6 L83.8,263.6 M79.8,272.2 L83.8,272.2" stroke="#7a7a7a" stroke-width="1" fill="none"/>
<path d="M93,272.5 L93,277.8 M91,272.5 L95,272.5 M91,277.8 L95,277.8" stroke="#7a7a7a" stroke-width="1" fill="none"/>
<circle cx="65" cy="232.4" r="2.35" fill="#1e8ff0" stroke="#1b3f73" stroke-width="0.7"/>
<circle cx="81.8" cy="267.9" r="2.35" fill="#1e8ff0" stroke="#1b3f73" stroke-width="0.7"/>
<circle cx="93" cy="275.1" r="2.35" fill="#1e8ff0" stroke="#1b3f73" stroke-width="0.7"/>
<circle cx="101.2" cy="278.7" r="2.35" fill="#1e8ff0" stroke="#1b3f73" stroke-width="0.7"/>
<circle cx="107.6" cy="283.8" r="2.35" fill="#1e8ff0" stroke="#1b3f73" stroke-width="0.7"/>
<circle cx="112.5" cy="285.4" r="2.35" fill="#1e8ff0" stroke="#1b3f73" stroke-width="0.7"/>
<rect x="178.7" y="211.7" width="76.90" height="77.50" fill="none" stroke="#8c8c8c" stroke-width="1"/>
<path d="M178.70,289.2 L178.70,291.0" stroke="#8c8c8c" stroke-width="0.8"/>
<text x="178.70" y="298.30" font-size="8.5" font-weight="normal" fill="#262626" text-anchor="middle" textLength="10.08" lengthAdjust="spacingAndGlyphs" stroke="#262626" stroke-width="0.22">2.0</text>
<path d="M194.08,289.2 L194.08,291.0" stroke="#8c8c8c" stroke-width="0.8"/>
<text x="194.08" y="298.30" font-size="8.5" font-weight="normal" fill="#262626" text-anchor="middle" textLength="10.08" lengthAdjust="spacingAndGlyphs" stroke="#262626" stroke-width="0.22">2.2</text>
<path d="M209.46,289.2 L209.46,291.0" stroke="#8c8c8c" stroke-width="0.8"/>
<text x="209.46" y="298.30" font-size="8.5" font-weight="normal" fill="#262626" text-anchor="middle" textLength="10.08" lengthAdjust="spacingAndGlyphs" stroke="#262626" stroke-width="0.22">2.4</text>
<path d="M224.84,289.2 L224.84,291.0" stroke="#8c8c8c" stroke-width="0.8"/>
<text x="224.84" y="298.30" font-size="8.5" font-weight="normal" fill="#262626" text-anchor="middle" textLength="10.08" lengthAdjust="spacingAndGlyphs" stroke="#262626" stroke-width="0.22">2.6</text>
<path d="M240.22,289.2 L240.22,291.0" stroke="#8c8c8c" stroke-width="0.8"/>
<text x="240.22" y="298.30" font-size="8.5" font-weight="normal" fill="#262626" text-anchor="middle" textLength="10.08" lengthAdjust="spacingAndGlyphs" stroke="#262626" stroke-width="0.22">2.8</text>
<path d="M255.60,289.2 L255.60,291.0" stroke="#8c8c8c" stroke-width="0.8"/>
<text x="255.60" y="298.30" font-size="8.5" font-weight="normal" fill="#262626" text-anchor="middle" textLength="10.08" lengthAdjust="spacingAndGlyphs" stroke="#262626" stroke-width="0.22">3.0</text>
<path d="M176.89999999999998,289.20 L178.7,289.20" stroke="#8c8c8c" stroke-width="0.8"/>
<text x="176.30" y="292.20" font-size="8.5" font-weight="normal" fill="#262626" text-anchor="end" textLength="4.03" lengthAdjust="spacingAndGlyphs" stroke="#262626" stroke-width="0.22">0</text>
<path d="M176.89999999999998,263.37 L178.7,263.37" stroke="#8c8c8c" stroke-width="0.8"/>
<text x="176.30" y="266.37" font-size="8.5" font-weight="normal" fill="#262626" text-anchor="end" textLength="22.17" lengthAdjust="spacingAndGlyphs" stroke="#262626" stroke-width="0.22">20,000</text>
<path d="M176.89999999999998,237.53 L178.7,237.53" stroke="#8c8c8c" stroke-width="0.8"/>
<text x="176.30" y="240.53" font-size="8.5" font-weight="normal" fill="#262626" text-anchor="end" textLength="22.17" lengthAdjust="spacingAndGlyphs" stroke="#262626" stroke-width="0.22">40,000</text>
<path d="M176.89999999999998,211.70 L178.7,211.70" stroke="#8c8c8c" stroke-width="0.8"/>
<text x="176.30" y="214.70" font-size="8.5" font-weight="normal" fill="#262626" text-anchor="end" textLength="22.17" lengthAdjust="spacingAndGlyphs" stroke="#262626" stroke-width="0.22">60,000</text>
<path d="M192.3,222.3 L240.6,228" stroke="#808080" stroke-width="1" fill="none"/>
<circle cx="192.3" cy="222.3" r="2.35" fill="#3ee01c" stroke="#2a6a1a" stroke-width="0.7"/>
<circle cx="209.2" cy="226.1" r="2.35" fill="#3ee01c" stroke="#2a6a1a" stroke-width="0.7"/>
<circle cx="220.3" cy="228" r="2.35" fill="#3ee01c" stroke="#2a6a1a" stroke-width="0.7"/>
<circle cx="228.9" cy="222.3" r="2.35" fill="#3ee01c" stroke="#2a6a1a" stroke-width="0.7"/>
<circle cx="235.8" cy="233.2" r="2.35" fill="#3ee01c" stroke="#2a6a1a" stroke-width="0.7"/>
<circle cx="240.6" cy="225.3" r="2.35" fill="#3ee01c" stroke="#2a6a1a" stroke-width="0.7"/>
<rect x="317.4" y="212.3" width="77.60" height="77.30" fill="none" stroke="#8c8c8c" stroke-width="1"/>
<path d="M317.40,289.6 L317.40,291.40000000000003" stroke="#8c8c8c" stroke-width="0.8"/>
<text x="317.40" y="298.70" font-size="8.5" font-weight="normal" fill="#262626" text-anchor="middle" textLength="10.08" lengthAdjust="spacingAndGlyphs" stroke="#262626" stroke-width="0.22">2.0</text>
<path d="M332.92,289.6 L332.92,291.40000000000003" stroke="#8c8c8c" stroke-width="0.8"/>
<text x="332.92" y="298.70" font-size="8.5" font-weight="normal" fill="#262626" text-anchor="middle" textLength="10.08" lengthAdjust="spacingAndGlyphs" stroke="#262626" stroke-width="0.22">2.2</text>
<path d="M348.44,289.6 L348.44,291.40000000000003" stroke="#8c8c8c" stroke-width="0.8"/>
<text x="348.44" y="298.70" font-size="8.5" font-weight="normal" fill="#262626" text-anchor="middle" textLength="10.08" lengthAdjust="spacingAndGlyphs" stroke="#262626" stroke-width="0.22">2.4</text>
<path d="M363.96,289.6 L363.96,291.40000000000003" stroke="#8c8c8c" stroke-width="0.8"/>
<text x="363.96" y="298.70" font-size="8.5" font-weight="normal" fill="#262626" text-anchor="middle" textLength="10.08" lengthAdjust="spacingAndGlyphs" stroke="#262626" stroke-width="0.22">2.6</text>
<path d="M379.48,289.6 L379.48,291.40000000000003" stroke="#8c8c8c" stroke-width="0.8"/>
<text x="379.48" y="298.70" font-size="8.5" font-weight="normal" fill="#262626" text-anchor="middle" textLength="10.08" lengthAdjust="spacingAndGlyphs" stroke="#262626" stroke-width="0.22">2.8</text>
<path d="M395.00,289.6 L395.00,291.40000000000003" stroke="#8c8c8c" stroke-width="0.8"/>
<text x="395.00" y="298.70" font-size="8.5" font-weight="normal" fill="#262626" text-anchor="middle" textLength="10.08" lengthAdjust="spacingAndGlyphs" stroke="#262626" stroke-width="0.22">3.0</text>
<path d="M315.59999999999997,289.60 L317.4,289.60" stroke="#8c8c8c" stroke-width="0.8"/>
<text x="315.00" y="292.60" font-size="8.5" font-weight="normal" fill="#262626" text-anchor="end" textLength="10.08" lengthAdjust="spacingAndGlyphs" stroke="#262626" stroke-width="0.22">0.0</text>
<path d="M315.59999999999997,258.68 L317.4,258.68" stroke="#8c8c8c" stroke-width="0.8"/>
<text x="315.00" y="261.68" font-size="8.5" font-weight="normal" fill="#262626" text-anchor="end" textLength="10.08" lengthAdjust="spacingAndGlyphs" stroke="#262626" stroke-width="0.22">0.5</text>
<path d="M315.59999999999997,227.76 L317.4,227.76" stroke="#8c8c8c" stroke-width="0.8"/>
<text x="315.00" y="230.76" font-size="8.5" font-weight="normal" fill="#262626" text-anchor="end" textLength="10.08" lengthAdjust="spacingAndGlyphs" stroke="#262626" stroke-width="0.22">1.0</text>
<path d="M330.90,227.39 L332.11,230.17 L333.33,232.83 L334.54,235.39 L335.76,237.84 L336.97,240.19 L338.19,242.45 L339.40,244.62 L340.62,246.70 L341.83,248.69 L343.05,250.60 L344.26,252.44 L345.48,254.20 L346.69,255.89 L347.91,257.51 L349.12,259.07 L350.34,260.57 L351.56,262.00 L352.77,263.37 L353.99,264.69 L355.20,265.96 L356.41,267.17 L357.63,268.34 L358.84,269.46 L360.06,270.53 L361.27,271.56 L362.49,272.55 L363.70,273.50 L364.92,274.41 L366.13,275.28 L367.35,276.12 L368.56,276.92 L369.78,277.69 L371.00,278.43 L372.21,279.14 L373.43,279.83 L374.64,280.48 L375.86,281.11 L377.07,281.71 L378.29,282.29 L379.50,282.84 " stroke="#505050" stroke-width="0.9" fill="none"/>
<path d="M330.9,213.4 L330.9,241.5 M328.9,213.4 L332.9,213.4 M328.9,241.5 L332.9,241.5" stroke="#7a7a7a" stroke-width="1" fill="none"/>
<path d="M348.2,258.0 L348.2,267.5 M346.2,258.0 L350.2,258.0 M346.2,267.5 L350.2,267.5" stroke="#7a7a7a" stroke-width="1" fill="none"/>
<path d="M359.5,269.6 L359.5,272.6 M357.5,269.6 L361.5,269.6 M357.5,272.6 L361.5,272.6" stroke="#7a7a7a" stroke-width="1" fill="none"/>
<circle cx="330.9" cy="227.5" r="2.35" fill="#1fe8c8" stroke="#1c5a55" stroke-width="0.7"/>
<circle cx="348.2" cy="263.5" r="2.35" fill="#1fe8c8" stroke="#1c5a55" stroke-width="0.7"/>
<circle cx="359.5" cy="270.8" r="2.35" fill="#1fe8c8" stroke="#1c5a55" stroke-width="0.7"/>
<circle cx="367.8" cy="276" r="2.35" fill="#1fe8c8" stroke="#1c5a55" stroke-width="0.7"/>
<circle cx="374.7" cy="279.7" r="2.35" fill="#1fe8c8" stroke="#1c5a55" stroke-width="0.7"/>
<circle cx="379.5" cy="282.7" r="2.35" fill="#1fe8c8" stroke="#1c5a55" stroke-width="0.7"/>
<rect x="449.6" y="212.3" width="77.10" height="76.90" fill="none" stroke="#8c8c8c" stroke-width="1"/>
<path d="M449.60,289.2 L449.60,291.0" stroke="#8c8c8c" stroke-width="0.8"/>
<text x="449.60" y="298.30" font-size="8.5" font-weight="normal" fill="#262626" text-anchor="middle" textLength="10.08" lengthAdjust="spacingAndGlyphs" stroke="#262626" stroke-width="0.22">2.0</text>
<path d="M465.02,289.2 L465.02,291.0" stroke="#8c8c8c" stroke-width="0.8"/>
<text x="465.02" y="298.30" font-size="8.5" font-weight="normal" fill="#262626" text-anchor="middle" textLength="10.08" lengthAdjust="spacingAndGlyphs" stroke="#262626" stroke-width="0.22">2.2</text>
<path d="M480.44,289.2 L480.44,291.0" stroke="#8c8c8c" stroke-width="0.8"/>
<text x="480.44" y="298.30" font-size="8.5" font-weight="normal" fill="#262626" text-anchor="middle" textLength="10.08" lengthAdjust="spacingAndGlyphs" stroke="#262626" stroke-width="0.22">2.4</text>
<path d="M495.86,289.2 L495.86,291.0" stroke="#8c8c8c" stroke-width="0.8"/>
<text x="495.86" y="298.30" font-size="8.5" font-weight="normal" fill="#262626" text-anchor="middle" textLength="10.08" lengthAdjust="spacingAndGlyphs" stroke="#262626" stroke-width="0.22">2.6</text>
<path d="M511.28,289.2 L511.28,291.0" stroke="#8c8c8c" stroke-width="0.8"/>
<text x="511.28" y="298.30" font-size="8.5" font-weight="normal" fill="#262626" text-anchor="middle" textLength="10.08" lengthAdjust="spacingAndGlyphs" stroke="#262626" stroke-width="0.22">2.8</text>
<path d="M526.70,289.2 L526.70,291.0" stroke="#8c8c8c" stroke-width="0.8"/>
<text x="526.70" y="298.30" font-size="8.5" font-weight="normal" fill="#262626" text-anchor="middle" textLength="10.08" lengthAdjust="spacingAndGlyphs" stroke="#262626" stroke-width="0.22">3.0</text>
<path d="M447.8,289.20 L449.6,289.20" stroke="#8c8c8c" stroke-width="0.8"/>
<text x="447.20" y="292.20" font-size="8.5" font-weight="normal" fill="#262626" text-anchor="end" textLength="10.08" lengthAdjust="spacingAndGlyphs" stroke="#262626" stroke-width="0.22">0.0</text>
<path d="M447.8,269.98 L449.6,269.98" stroke="#8c8c8c" stroke-width="0.8"/>
<text x="447.20" y="272.98" font-size="8.5" font-weight="normal" fill="#262626" text-anchor="end" textLength="10.08" lengthAdjust="spacingAndGlyphs" stroke="#262626" stroke-width="0.22">0.5</text>
<path d="M447.8,250.75 L449.6,250.75" stroke="#8c8c8c" stroke-width="0.8"/>
<text x="447.20" y="253.75" font-size="8.5" font-weight="normal" fill="#262626" text-anchor="end" textLength="10.08" lengthAdjust="spacingAndGlyphs" stroke="#262626" stroke-width="0.22">1.0</text>
<path d="M447.8,231.53 L449.6,231.53" stroke="#8c8c8c" stroke-width="0.8"/>
<text x="447.20" y="234.53" font-size="8.5" font-weight="normal" fill="#262626" text-anchor="end" textLength="10.08" lengthAdjust="spacingAndGlyphs" stroke="#262626" stroke-width="0.22">1.5</text>
<path d="M447.8,212.30 L449.6,212.30" stroke="#8c8c8c" stroke-width="0.8"/>
<text x="447.20" y="215.30" font-size="8.5" font-weight="normal" fill="#262626" text-anchor="end" textLength="10.08" lengthAdjust="spacingAndGlyphs" stroke="#262626" stroke-width="0.22">2.0</text>
<path d="M463.3,222.7 L480,222.7 L491.3,223.5 L511.6,223.5" stroke="#808080" stroke-width="1" fill="none"/>
<circle cx="463.3" cy="222.7" r="2.35" fill="#52d0f2" stroke="#1d5a72" stroke-width="0.7"/>
<circle cx="480" cy="222.7" r="2.35" fill="#52d0f2" stroke="#1d5a72" stroke-width="0.7"/>
<circle cx="491.3" cy="223.5" r="2.35" fill="#52d0f2" stroke="#1d5a72" stroke-width="0.7"/>
<circle cx="499.7" cy="223.5" r="2.35" fill="#52d0f2" stroke="#1d5a72" stroke-width="0.7"/>
<circle cx="506.2" cy="223.5" r="2.35" fill="#52d0f2" stroke="#1d5a72" stroke-width="0.7"/>
<circle cx="511.6" cy="223.5" r="2.35" fill="#52d0f2" stroke="#1d5a72" stroke-width="0.7"/>
<rect x="51.5" y="353" width="77.50" height="77.50" fill="none" stroke="#8c8c8c" stroke-width="1"/>
<path d="M51.50,430.5 L51.50,432.3" stroke="#8c8c8c" stroke-width="0.8"/>
<text x="51.50" y="439.60" font-size="8.5" font-weight="normal" fill="#262626" text-anchor="middle" textLength="10.08" lengthAdjust="spacingAndGlyphs" stroke="#262626" stroke-width="0.22">1.0</text>
<path d="M73.03,430.5 L73.03,432.3" stroke="#8c8c8c" stroke-width="0.8"/>
<text x="73.03" y="439.60" font-size="8.5" font-weight="normal" fill="#262626" text-anchor="middle" textLength="10.08" lengthAdjust="spacingAndGlyphs" stroke="#262626" stroke-width="0.22">1.5</text>
<path d="M94.56,430.5 L94.56,432.3" stroke="#8c8c8c" stroke-width="0.8"/>
<text x="94.56" y="439.60" font-size="8.5" font-weight="normal" fill="#262626" text-anchor="middle" textLength="10.08" lengthAdjust="spacingAndGlyphs" stroke="#262626" stroke-width="0.22">2.0</text>
<path d="M116.08,430.5 L116.08,432.3" stroke="#8c8c8c" stroke-width="0.8"/>
<text x="116.08" y="439.60" font-size="8.5" font-weight="normal" fill="#262626" text-anchor="middle" textLength="10.08" lengthAdjust="spacingAndGlyphs" stroke="#262626" stroke-width="0.22">2.5</text>
<path d="M49.7,430.50 L51.5,430.50" stroke="#8c8c8c" stroke-width="0.8"/>
<text x="49.10" y="433.50" font-size="8.5" font-weight="normal" fill="#262626" text-anchor="end" textLength="4.03" lengthAdjust="spacingAndGlyphs" stroke="#262626" stroke-width="0.22">0</text>
<path d="M49.7,404.67 L51.5,404.67" stroke="#8c8c8c" stroke-width="0.8"/>
<text x="49.10" y="407.67" font-size="8.5" font-weight="normal" fill="#262626" text-anchor="end" textLength="26.21" lengthAdjust="spacingAndGlyphs" stroke="#262626" stroke-width="0.22">100,000</text>
<path d="M49.7,378.83 L51.5,378.83" stroke="#8c8c8c" stroke-width="0.8"/>
<text x="49.10" y="381.83" font-size="8.5" font-weight="normal" fill="#262626" text-anchor="end" textLength="26.21" lengthAdjust="spacingAndGlyphs" stroke="#262626" stroke-width="0.22">200,000</text>
<path d="M49.7,353.00 L51.5,353.00" stroke="#8c8c8c" stroke-width="0.8"/>
<text x="49.10" y="356.00" font-size="8.5" font-weight="normal" fill="#262626" text-anchor="end" textLength="26.21" lengthAdjust="spacingAndGlyphs" stroke="#262626" stroke-width="0.22">300,000</text>
<path d="M58.60,367.55 L60.16,371.18 L61.72,374.56 L63.27,377.69 L64.83,380.60 L66.39,383.29 L67.95,385.79 L69.50,388.12 L71.06,390.27 L72.62,392.27 L74.17,394.13 L75.73,395.85 L77.29,397.45 L78.85,398.93 L80.41,400.30 L81.96,401.58 L83.52,402.77 L85.08,403.87 L86.64,404.89 L88.19,405.83 L89.75,406.71 L91.31,407.53 L92.87,408.28 L94.42,408.98 L95.98,409.64 L97.54,410.24 L99.09,410.80 L100.65,411.32 L102.21,411.81 L103.77,412.25 L105.33,412.67 L106.88,413.06 L108.44,413.41 L110.00,413.75 L111.56,414.06 L113.11,414.34 L114.67,414.61 L116.23,414.85 L117.78,415.08 L119.34,415.29 L120.90,415.49 " stroke="#505050" stroke-width="0.9" fill="none"/>
<circle cx="58.6" cy="369.2" r="2.35" fill="#1e8ff0" stroke="#1b3f73" stroke-width="0.7"/>
<circle cx="67.1" cy="381.2" r="2.35" fill="#1e8ff0" stroke="#1b3f73" stroke-width="0.7"/>
<circle cx="72.1" cy="390.9" r="2.35" fill="#1e8ff0" stroke="#1b3f73" stroke-width="0.7"/>
<circle cx="83" cy="404.2" r="2.35" fill="#1e8ff0" stroke="#1b3f73" stroke-width="0.7"/>
<circle cx="93.6" cy="410.2" r="2.35" fill="#1e8ff0" stroke="#1b3f73" stroke-width="0.7"/>
<circle cx="99.9" cy="412.1" r="2.35" fill="#1e8ff0" stroke="#1b3f73" stroke-width="0.7"/>
<circle cx="120.9" cy="413.4" r="2.35" fill="#1e8ff0" stroke="#1b3f73" stroke-width="0.7"/>
<rect x="179.3" y="350.8" width="76.40" height="77.20" fill="none" stroke="#8c8c8c" stroke-width="1"/>
<path d="M179.30,428 L179.30,429.8" stroke="#8c8c8c" stroke-width="0.8"/>
<text x="179.30" y="437.10" font-size="8.5" font-weight="normal" fill="#262626" text-anchor="middle" textLength="10.08" lengthAdjust="spacingAndGlyphs" stroke="#262626" stroke-width="0.22">1.0</text>
<path d="M200.29,428 L200.29,429.8" stroke="#8c8c8c" stroke-width="0.8"/>
<text x="200.29" y="437.10" font-size="8.5" font-weight="normal" fill="#262626" text-anchor="middle" textLength="10.08" lengthAdjust="spacingAndGlyphs" stroke="#262626" stroke-width="0.22">1.5</text>
<path d="M221.28,428 L221.28,429.8" stroke="#8c8c8c" stroke-width="0.8"/>
<text x="221.28" y="437.10" font-size="8.5" font-weight="normal" fill="#262626" text-anchor="middle" textLength="10.08" lengthAdjust="spacingAndGlyphs" stroke="#262626" stroke-width="0.22">2.0</text>
<path d="M242.27,428 L242.27,429.8" stroke="#8c8c8c" stroke-width="0.8"/>
<text x="242.27" y="437.10" font-size="8.5" font-weight="normal" fill="#262626" text-anchor="middle" textLength="10.08" lengthAdjust="spacingAndGlyphs" stroke="#262626" stroke-width="0.22">2.5</text>
<path d="M177.5,428.00 L179.3,428.00" stroke="#8c8c8c" stroke-width="0.8"/>
<text x="176.90" y="431.00" font-size="8.5" font-weight="normal" fill="#262626" text-anchor="end" textLength="4.03" lengthAdjust="spacingAndGlyphs" stroke="#262626" stroke-width="0.22">0</text>
<path d="M177.5,408.70 L179.3,408.70" stroke="#8c8c8c" stroke-width="0.8"/>
<text x="176.90" y="411.70" font-size="8.5" font-weight="normal" fill="#262626" text-anchor="end" textLength="22.17" lengthAdjust="spacingAndGlyphs" stroke="#262626" stroke-width="0.22">10,000</text>
<path d="M177.5,389.40 L179.3,389.40" stroke="#8c8c8c" stroke-width="0.8"/>
<text x="176.90" y="392.40" font-size="8.5" font-weight="normal" fill="#262626" text-anchor="end" textLength="22.17" lengthAdjust="spacingAndGlyphs" stroke="#262626" stroke-width="0.22">20,000</text>
<path d="M177.5,370.10 L179.3,370.10" stroke="#8c8c8c" stroke-width="0.8"/>
<text x="176.90" y="373.10" font-size="8.5" font-weight="normal" fill="#262626" text-anchor="end" textLength="22.17" lengthAdjust="spacingAndGlyphs" stroke="#262626" stroke-width="0.22">30,000</text>
<path d="M177.5,350.80 L179.3,350.80" stroke="#8c8c8c" stroke-width="0.8"/>
<text x="176.90" y="353.80" font-size="8.5" font-weight="normal" fill="#262626" text-anchor="end" textLength="22.17" lengthAdjust="spacingAndGlyphs" stroke="#262626" stroke-width="0.22">40,000</text>
<path d="M186.2,368.5 L248.6,368.5" stroke="#808080" stroke-width="1" fill="none"/>
<circle cx="186.2" cy="367" r="2.35" fill="#3ee01c" stroke="#2a6a1a" stroke-width="0.7"/>
<circle cx="194.3" cy="365.3" r="2.35" fill="#3ee01c" stroke="#2a6a1a" stroke-width="0.7"/>
<circle cx="200.1" cy="368.5" r="2.35" fill="#3ee01c" stroke="#2a6a1a" stroke-width="0.7"/>
<circle cx="211" cy="373.6" r="2.35" fill="#3ee01c" stroke="#2a6a1a" stroke-width="0.7"/>
<circle cx="220.8" cy="371.6" r="2.35" fill="#3ee01c" stroke="#2a6a1a" stroke-width="0.7"/>
<circle cx="227.4" cy="367" r="2.35" fill="#3ee01c" stroke="#2a6a1a" stroke-width="0.7"/>
<circle cx="248.6" cy="366" r="2.35" fill="#3ee01c" stroke="#2a6a1a" stroke-width="0.7"/>
<rect x="321.1" y="350.7" width="78.00" height="77.70" fill="none" stroke="#8c8c8c" stroke-width="1"/>
<path d="M321.10,428.4 L321.10,430.2" stroke="#8c8c8c" stroke-width="0.8"/>
<text x="321.10" y="437.50" font-size="8.5" font-weight="normal" fill="#262626" text-anchor="middle" textLength="10.08" lengthAdjust="spacingAndGlyphs" stroke="#262626" stroke-width="0.22">1.0</text>
<path d="M342.30,428.4 L342.30,430.2" stroke="#8c8c8c" stroke-width="0.8"/>
<text x="342.30" y="437.50" font-size="8.5" font-weight="normal" fill="#262626" text-anchor="middle" textLength="10.08" lengthAdjust="spacingAndGlyphs" stroke="#262626" stroke-width="0.22">1.5</text>
<path d="M363.49,428.4 L363.49,430.2" stroke="#8c8c8c" stroke-width="0.8"/>
<text x="363.49" y="437.50" font-size="8.5" font-weight="normal" fill="#262626" text-anchor="middle" textLength="10.08" lengthAdjust="spacingAndGlyphs" stroke="#262626" stroke-width="0.22">2.0</text>
<path d="M384.69,428.4 L384.69,430.2" stroke="#8c8c8c" stroke-width="0.8"/>
<text x="384.69" y="437.50" font-size="8.5" font-weight="normal" fill="#262626" text-anchor="middle" textLength="10.08" lengthAdjust="spacingAndGlyphs" stroke="#262626" stroke-width="0.22">2.5</text>
<path d="M319.3,428.40 L321.1,428.40" stroke="#8c8c8c" stroke-width="0.8"/>
<text x="318.70" y="431.40" font-size="8.5" font-weight="normal" fill="#262626" text-anchor="end" textLength="14.11" lengthAdjust="spacingAndGlyphs" stroke="#262626" stroke-width="0.22">0.00</text>
<path d="M319.3,412.86 L321.1,412.86" stroke="#8c8c8c" stroke-width="0.8"/>
<text x="318.70" y="415.86" font-size="8.5" font-weight="normal" fill="#262626" text-anchor="end" textLength="14.11" lengthAdjust="spacingAndGlyphs" stroke="#262626" stroke-width="0.22">0.25</text>
<path d="M319.3,397.32 L321.1,397.32" stroke="#8c8c8c" stroke-width="0.8"/>
<text x="318.70" y="400.32" font-size="8.5" font-weight="normal" fill="#262626" text-anchor="end" textLength="14.11" lengthAdjust="spacingAndGlyphs" stroke="#262626" stroke-width="0.22">0.50</text>
<path d="M319.3,381.78 L321.1,381.78" stroke="#8c8c8c" stroke-width="0.8"/>
<text x="318.70" y="384.78" font-size="8.5" font-weight="normal" fill="#262626" text-anchor="end" textLength="14.11" lengthAdjust="spacingAndGlyphs" stroke="#262626" stroke-width="0.22">0.75</text>
<path d="M319.3,366.24 L321.1,366.24" stroke="#8c8c8c" stroke-width="0.8"/>
<text x="318.70" y="369.24" font-size="8.5" font-weight="normal" fill="#262626" text-anchor="end" textLength="14.11" lengthAdjust="spacingAndGlyphs" stroke="#262626" stroke-width="0.22">1.00</text>
<path d="M319.3,350.70 L321.1,350.70" stroke="#8c8c8c" stroke-width="0.8"/>
<text x="318.70" y="353.70" font-size="8.5" font-weight="normal" fill="#262626" text-anchor="end" textLength="14.11" lengthAdjust="spacingAndGlyphs" stroke="#262626" stroke-width="0.22">1.25</text>
<path d="M329.20,365.31 L330.75,368.75 L332.30,371.95 L333.84,374.94 L335.39,377.72 L336.94,380.31 L338.49,382.72 L340.03,384.96 L341.58,387.05 L343.13,389.00 L344.68,390.81 L346.22,392.50 L347.77,394.07 L349.32,395.54 L350.87,396.90 L352.41,398.17 L353.96,399.36 L355.51,400.46 L357.06,401.48 L358.60,402.44 L360.15,403.33 L361.70,404.16 L363.25,404.93 L364.79,405.65 L366.34,406.32 L367.89,406.94 L369.44,407.52 L370.98,408.06 L372.53,408.57 L374.08,409.03 L375.62,409.47 L377.17,409.88 L378.72,410.26 L380.27,410.61 L381.81,410.94 L383.36,411.24 L384.91,411.53 L386.46,411.79 L388.00,412.04 L389.55,412.27 L391.10,412.49 " stroke="#505050" stroke-width="0.9" fill="none"/>
<circle cx="329.2" cy="366" r="2.35" fill="#1fe8c8" stroke="#1c5a55" stroke-width="0.7"/>
<circle cx="337" cy="379.9" r="2.35" fill="#1fe8c8" stroke="#1c5a55" stroke-width="0.7"/>
<circle cx="342.6" cy="387.2" r="2.35" fill="#1fe8c8" stroke="#1c5a55" stroke-width="0.7"/>
<circle cx="353.4" cy="398.6" r="2.35" fill="#1fe8c8" stroke="#1c5a55" stroke-width="0.7"/>
<circle cx="363.3" cy="405.9" r="2.35" fill="#1fe8c8" stroke="#1c5a55" stroke-width="0.7"/>
<circle cx="369.8" cy="409.5" r="2.35" fill="#1fe8c8" stroke="#1c5a55" stroke-width="0.7"/>
<circle cx="391.1" cy="411" r="2.35" fill="#1fe8c8" stroke="#1c5a55" stroke-width="0.7"/>
<rect x="449.5" y="350.7" width="77.30" height="77.30" fill="none" stroke="#8c8c8c" stroke-width="1"/>
<path d="M449.50,428 L449.50,429.8" stroke="#8c8c8c" stroke-width="0.8"/>
<text x="449.50" y="437.10" font-size="8.5" font-weight="normal" fill="#262626" text-anchor="middle" textLength="10.08" lengthAdjust="spacingAndGlyphs" stroke="#262626" stroke-width="0.22">1.0</text>
<path d="M470.85,428 L470.85,429.8" stroke="#8c8c8c" stroke-width="0.8"/>
<text x="470.85" y="437.10" font-size="8.5" font-weight="normal" fill="#262626" text-anchor="middle" textLength="10.08" lengthAdjust="spacingAndGlyphs" stroke="#262626" stroke-width="0.22">1.5</text>
<path d="M492.21,428 L492.21,429.8" stroke="#8c8c8c" stroke-width="0.8"/>
<text x="492.21" y="437.10" font-size="8.5" font-weight="normal" fill="#262626" text-anchor="middle" textLength="10.08" lengthAdjust="spacingAndGlyphs" stroke="#262626" stroke-width="0.22">2.0</text>
<path d="M513.56,428 L513.56,429.8" stroke="#8c8c8c" stroke-width="0.8"/>
<text x="513.56" y="437.10" font-size="8.5" font-weight="normal" fill="#262626" text-anchor="middle" textLength="10.08" lengthAdjust="spacingAndGlyphs" stroke="#262626" stroke-width="0.22">2.5</text>
<path d="M447.7,428.00 L449.5,428.00" stroke="#8c8c8c" stroke-width="0.8"/>
<text x="447.10" y="431.00" font-size="8.5" font-weight="normal" fill="#262626" text-anchor="end" textLength="10.08" lengthAdjust="spacingAndGlyphs" stroke="#262626" stroke-width="0.22">0.0</text>
<path d="M447.7,408.68 L449.5,408.68" stroke="#8c8c8c" stroke-width="0.8"/>
<text x="447.10" y="411.68" font-size="8.5" font-weight="normal" fill="#262626" text-anchor="end" textLength="10.08" lengthAdjust="spacingAndGlyphs" stroke="#262626" stroke-width="0.22">0.5</text>
<path d="M447.7,389.35 L449.5,389.35" stroke="#8c8c8c" stroke-width="0.8"/>
<text x="447.10" y="392.35" font-size="8.5" font-weight="normal" fill="#262626" text-anchor="end" textLength="10.08" lengthAdjust="spacingAndGlyphs" stroke="#262626" stroke-width="0.22">1.0</text>
<path d="M447.7,370.02 L449.5,370.02" stroke="#8c8c8c" stroke-width="0.8"/>
<text x="447.10" y="373.02" font-size="8.5" font-weight="normal" fill="#262626" text-anchor="end" textLength="10.08" lengthAdjust="spacingAndGlyphs" stroke="#262626" stroke-width="0.22">1.5</text>
<path d="M447.7,350.70 L449.5,350.70" stroke="#8c8c8c" stroke-width="0.8"/>
<text x="447.10" y="353.70" font-size="8.5" font-weight="normal" fill="#262626" text-anchor="end" textLength="10.08" lengthAdjust="spacingAndGlyphs" stroke="#262626" stroke-width="0.22">2.0</text>
<path d="M457.3,358.2 L518.4,358.2" stroke="#808080" stroke-width="1" fill="none"/>
<circle cx="457.3" cy="358.2" r="2.35" fill="#52d0f2" stroke="#1d5a72" stroke-width="0.7"/>
<circle cx="464.9" cy="358.2" r="2.35" fill="#52d0f2" stroke="#1d5a72" stroke-width="0.7"/>
<circle cx="470.4" cy="358.2" r="2.35" fill="#52d0f2" stroke="#1d5a72" stroke-width="0.7"/>
<circle cx="481.3" cy="358.2" r="2.35" fill="#52d0f2" stroke="#1d5a72" stroke-width="0.7"/>
<circle cx="491.1" cy="358.2" r="2.35" fill="#52d0f2" stroke="#1d5a72" stroke-width="0.7"/>
<circle cx="497.7" cy="358.2" r="2.35" fill="#52d0f2" stroke="#1d5a72" stroke-width="0.7"/>
<circle cx="518.4" cy="358.2" r="2.35" fill="#52d0f2" stroke="#1d5a72" stroke-width="0.7"/>
<text x="61.10" y="312.30" font-size="9.2" font-weight="bold" fill="#111" text-anchor="start" textLength="56.80" lengthAdjust="spacingAndGlyphs" stroke="#111" stroke-width="0.2">log[NaCl] (mM)</text>
<text x="188.40" y="309.50" font-size="9.2" font-weight="bold" fill="#111" text-anchor="start" textLength="58.10" lengthAdjust="spacingAndGlyphs" stroke="#111" stroke-width="0.2">log[NaCl] (mM)</text>
<text x="327.20" y="309.60" font-size="9.2" font-weight="bold" fill="#111" text-anchor="start" textLength="58.90" lengthAdjust="spacingAndGlyphs" stroke="#111" stroke-width="0.2">log[NaCl] (mM)</text>
<text x="459.00" y="310.30" font-size="9.2" font-weight="bold" fill="#111" text-anchor="start" textLength="58.10" lengthAdjust="spacingAndGlyphs" stroke="#111" stroke-width="0.2">log[NaCl] (mM)</text>
<text x="61.00" y="451.00" font-size="9.2" font-weight="bold" fill="#111" text-anchor="start" textLength="58.00" lengthAdjust="spacingAndGlyphs" stroke="#111" stroke-width="0.2">log[NaCl] (mM)</text>
<text x="188.30" y="448.80" font-size="9.2" font-weight="bold" fill="#111" text-anchor="start" textLength="58.30" lengthAdjust="spacingAndGlyphs" stroke="#111" stroke-width="0.2">log[NaCl] (mM)</text>
<text x="330.40" y="448.00" font-size="9.2" font-weight="bold" fill="#111" text-anchor="start" textLength="59.40" lengthAdjust="spacingAndGlyphs" stroke="#111" stroke-width="0.2">log[NaCl] (mM)</text>
<text x="459.00" y="447.80" font-size="9.2" font-weight="bold" fill="#111" text-anchor="start" textLength="59.40" lengthAdjust="spacingAndGlyphs" stroke="#111" stroke-width="0.2">log[NaCl] (mM)</text>
<text x="6.20" y="18.40" font-size="12.6" font-weight="bold" fill="#111" text-anchor="start" textLength="8.74" lengthAdjust="spacingAndGlyphs" stroke="#111" stroke-width="0.15">A</text>
<text x="4.80" y="201.10" font-size="12.6" font-weight="bold" fill="#111" text-anchor="start" textLength="8.19" lengthAdjust="spacingAndGlyphs" stroke="#111" stroke-width="0.15">B</text>
<text x="138.00" y="200.90" font-size="12.6" font-weight="bold" fill="#111" text-anchor="start" textLength="8.19" lengthAdjust="spacingAndGlyphs" stroke="#111" stroke-width="0.15">C</text>
<text x="273.40" y="201.10" font-size="12.6" font-weight="bold" fill="#111" text-anchor="start" textLength="8.19" lengthAdjust="spacingAndGlyphs" stroke="#111" stroke-width="0.15">D</text>
<text x="415.60" y="201.30" font-size="12.6" font-weight="bold" fill="#111" text-anchor="start" textLength="7.56" lengthAdjust="spacingAndGlyphs" stroke="#111" stroke-width="0.15">E</text>
<text x="6.60" y="337.00" font-size="12.6" font-weight="bold" fill="#111" text-anchor="start" textLength="6.93" lengthAdjust="spacingAndGlyphs" stroke="#111" stroke-width="0.15">F</text>
<text x="137.70" y="336.60" font-size="12.6" font-weight="bold" fill="#111" text-anchor="start" textLength="8.82" lengthAdjust="spacingAndGlyphs" stroke="#111" stroke-width="0.15">G</text>
<text x="273.40" y="337.00" font-size="12.6" font-weight="bold" fill="#111" text-anchor="start" textLength="8.19" lengthAdjust="spacingAndGlyphs" stroke="#111" stroke-width="0.15">H</text>
<text x="415.60" y="337.00" font-size="12.6" font-weight="bold" fill="#111" text-anchor="start" textLength="3.15" lengthAdjust="spacingAndGlyphs" stroke="#111" stroke-width="0.15">I</text>
<text transform="translate(13.90,252.50) rotate(-90)" x="0" y="0" font-size="8.3" font-weight="bold" fill="#111" stroke="#111" stroke-width="0.18" text-anchor="middle" textLength="91.80" lengthAdjust="spacingAndGlyphs">Bioluminescence (CPS)</text>
<text transform="translate(148.70,249.35) rotate(-90)" x="0" y="0" font-size="8.3" font-weight="bold" fill="#111" stroke="#111" stroke-width="0.18" text-anchor="middle" textLength="78.10" lengthAdjust="spacingAndGlyphs">Fluorescence (CPS)</text>
<text transform="translate(280.20,249.50) rotate(-90)" x="0" y="0" font-size="8.3" font-weight="bold" fill="#111" stroke="#111" stroke-width="0.18" text-anchor="middle" textLength="68.60" lengthAdjust="spacingAndGlyphs">Normalized Ratio</text>
<text transform="translate(289.60,250.55) rotate(-90)" x="0" y="0" font-size="8.3" font-weight="bold" fill="#111" stroke="#111" stroke-width="0.18" text-anchor="middle" textLength="76.30" lengthAdjust="spacingAndGlyphs">(Bioluminescence/</text>
<text transform="translate(298.80,251.00) rotate(-90)" x="0" y="0" font-size="8.3" font-weight="bold" fill="#111" stroke="#111" stroke-width="0.18" text-anchor="middle" textLength="59.60" lengthAdjust="spacingAndGlyphs">Fluorescence)</text>
<text transform="translate(420.70,249.45) rotate(-90)" x="0" y="0" font-size="8.3" font-weight="bold" fill="#111" stroke="#111" stroke-width="0.18" text-anchor="middle" textLength="23.30" lengthAdjust="spacingAndGlyphs">BRET</text>
<text transform="translate(431.30,249.55) rotate(-90)" x="0" y="0" font-size="8.3" font-weight="bold" fill="#111" stroke="#111" stroke-width="0.18" text-anchor="middle" textLength="64.70" lengthAdjust="spacingAndGlyphs">(520 nm/460 nm)</text>
<text transform="translate(16.30,390.50) rotate(-90)" x="0" y="0" font-size="8.3" font-weight="bold" fill="#111" stroke="#111" stroke-width="0.18" text-anchor="middle" textLength="93.80" lengthAdjust="spacingAndGlyphs">Bioluminescence (CPS)</text>
<text transform="translate(148.90,387.75) rotate(-90)" x="0" y="0" font-size="8.3" font-weight="bold" fill="#111" stroke="#111" stroke-width="0.18" text-anchor="middle" textLength="78.30" lengthAdjust="spacingAndGlyphs">Fluorescence (CPS)</text>
<text transform="translate(280.20,387.80) rotate(-90)" x="0" y="0" font-size="8.3" font-weight="bold" fill="#111" stroke="#111" stroke-width="0.18" text-anchor="middle" textLength="67.60" lengthAdjust="spacingAndGlyphs">Normalized Ratio</text>
<text transform="translate(289.60,388.35) rotate(-90)" x="0" y="0" font-size="8.3" font-weight="bold" fill="#111" stroke="#111" stroke-width="0.18" text-anchor="middle" textLength="75.30" lengthAdjust="spacingAndGlyphs">(Bioluminescence/</text>
<text transform="translate(298.80,388.30) rotate(-90)" x="0" y="0" font-size="8.3" font-weight="bold" fill="#111" stroke="#111" stroke-width="0.18" text-anchor="middle" textLength="57.60" lengthAdjust="spacingAndGlyphs">Fluorescence)</text>
<text transform="translate(420.90,388.15) rotate(-90)" x="0" y="0" font-size="8.3" font-weight="bold" fill="#111" stroke="#111" stroke-width="0.18" text-anchor="middle" textLength="22.50" lengthAdjust="spacingAndGlyphs">BRET</text>
<text transform="translate(431.30,388.20) rotate(-90)" x="0" y="0" font-size="8.3" font-weight="bold" fill="#111" stroke="#111" stroke-width="0.18" text-anchor="middle" textLength="66.40" lengthAdjust="spacingAndGlyphs">(520 nm/460 nm)</text>
<path d="M532.5,213.1 L532.5,291" stroke="#fa5a0c" stroke-width="1.5"/>
<path d="M532.5,352.1 L532.5,431.5" stroke="#fa5a0c" stroke-width="1.5"/>
<text transform="translate(545.00,253.00) rotate(-90)" font-size="12.2" fill="#727272" stroke="#727272" stroke-width="0.3" text-anchor="middle" textLength="51.60" lengthAdjust="spacingAndGlyphs">Cell lysate</text>
<text transform="translate(544.80,392.35) rotate(-90)" font-size="12.2" fill="#727272" stroke="#727272" stroke-width="0.3" text-anchor="middle" textLength="41.10" lengthAdjust="spacingAndGlyphs">Live cell</text>
</svg></body></html>
